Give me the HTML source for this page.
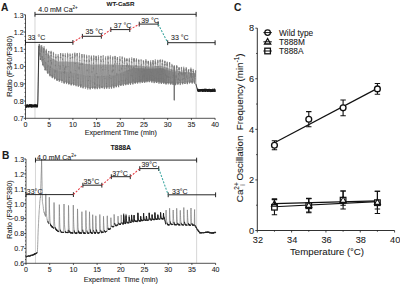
<!DOCTYPE html>
<html><head><meta charset="utf-8"><style>
html,body{margin:0;padding:0;background:#fff;overflow:hidden;}
svg{display:block;}
text{font-family:"Liberation Sans", sans-serif;fill:#1a1a1a;white-space:pre;stroke:#1a1a1a;stroke-width:0.08px;}
.tk{font-size:7px;}
.lb{font-size:7px;}
.bt{font-size:6.2px;font-weight:bold;}
.bt2{font-size:6.9px;font-weight:bold;}
.pl{font-size:10.2px;font-weight:bold;}
.al{font-size:7.2px;}
.al2{font-size:7.5px;}
.tc{font-size:9.2px;}
.ac{font-size:9.7px;}
.ay{font-size:9.75px;}
.lg{font-size:8.3px;}
</style></head><body>
<svg width="400" height="284" viewBox="0 0 400 284"><path d="M34.98 14.80V118.30M196.14 14.80V118.30" stroke="#c4c4c4" stroke-width="0.7"/><defs><linearGradient id="gA" gradientUnits="userSpaceOnUse" x1="39.2" y1="0" x2="195.7" y2="0"><stop offset="0" stop-color="#b0b0b0"/><stop offset="1" stop-color="#b0b0b0"/></linearGradient></defs><path d="M39.0 44.5L40.2 45.2L41.4 45.9L42.6 46.8L43.7 48.0L44.9 49.6L46.1 51.3L47.3 52.9L48.5 54.6L49.7 56.1L50.9 57.2L52.0 58.2L53.2 59.2L54.4 60.1L55.6 60.6L56.8 61.1L58.0 61.4L59.2 61.5L60.3 61.5L61.5 61.5L62.7 61.5L63.9 61.6L65.1 61.6L66.3 61.6L67.4 61.6L68.6 61.7L69.8 61.7L71.0 61.7L72.2 61.7L73.4 61.8L74.6 61.8L75.7 61.8L76.9 62.0L78.1 62.3L79.3 62.5L80.5 62.7L81.7 63.0L82.9 63.2L84.0 63.4L85.2 63.7L86.4 63.9L87.6 64.1L88.8 64.3L90.0 64.5L91.1 64.5L92.3 64.5L93.5 64.5L94.7 64.5L95.9 64.5L97.1 64.5L98.3 64.5L99.4 64.5L100.6 64.5L101.8 64.5L103.0 64.5L104.2 64.5L105.4 64.5L106.6 64.5L107.7 64.5L108.9 64.5L110.1 64.5L111.3 64.6L112.5 64.6L113.7 64.6L114.8 64.7L116.0 64.7L117.2 64.8L118.4 64.8L119.6 64.8L120.8 64.9L122.0 64.9L123.1 64.9L124.3 65.0L125.5 65.0L126.7 65.1L127.9 65.1L129.1 65.1L130.3 65.2L131.4 65.3L132.6 65.3L133.8 65.4L135.0 65.5L136.2 65.6L137.4 65.7L138.5 65.7L139.7 65.8L140.9 65.9L142.1 66.0L143.3 66.1L144.5 66.2L145.7 66.2L146.8 66.3L148.0 66.4L149.2 66.5L150.4 66.5L151.6 66.4L152.8 66.3L154.0 66.2L155.1 66.1L156.3 66.0L157.5 65.9L158.7 65.8L159.9 65.8L161.1 65.7L162.2 66.1L163.4 66.5L164.6 66.9L165.8 67.3L167.0 67.8L168.2 68.2L169.4 68.6L170.5 69.0L171.7 69.4L172.9 69.8L174.1 70.3L175.3 70.6L176.5 70.7L177.7 70.9L178.8 71.0L180.0 71.2L181.2 71.4L182.4 71.5L183.6 71.7L184.8 71.8L185.9 72.0L187.1 72.1L188.3 72.3L189.5 72.4L190.7 72.6L191.9 72.7L193.1 72.9L194.2 73.0L195.4 73.2L195.4 81.6L194.2 81.7L193.1 81.8L191.9 81.9L190.7 82.1L189.5 82.2L188.3 82.3L187.1 82.4L185.9 82.5L184.8 82.6L183.6 82.8L182.4 82.9L181.2 83.0L180.0 83.1L178.8 83.2L177.7 83.3L176.5 83.5L175.3 83.6L174.1 83.6L172.9 83.4L171.7 83.3L170.5 83.2L169.4 83.1L168.2 83.0L167.0 82.9L165.8 82.8L164.6 82.7L163.4 82.6L162.2 82.4L161.1 82.3L159.9 82.1L158.7 81.9L157.5 81.8L156.3 81.6L155.1 81.4L154.0 81.2L152.8 81.1L151.6 80.9L150.4 80.7L149.2 80.8L148.0 80.9L146.8 81.1L145.7 81.2L144.5 81.3L143.3 81.5L142.1 81.6L140.9 81.7L139.7 81.9L138.5 82.0L137.4 82.1L136.2 82.3L135.0 82.4L133.8 82.5L132.6 82.7L131.4 82.8L130.3 82.9L129.1 83.2L127.9 83.4L126.7 83.7L125.5 83.9L124.3 84.1L123.1 84.4L122.0 84.6L120.8 84.9L119.6 85.1L118.4 85.3L117.2 85.6L116.0 85.8L114.8 86.1L113.7 86.3L112.5 86.5L111.3 86.8L110.1 87.0L108.9 87.1L107.7 87.2L106.6 87.2L105.4 87.3L104.2 87.3L103.0 87.4L101.8 87.4L100.6 87.5L99.4 87.5L98.3 87.6L97.1 87.6L95.9 87.7L94.7 87.7L93.5 87.8L92.3 87.8L91.1 87.9L90.0 87.9L88.8 87.8L87.6 87.5L86.4 87.3L85.2 87.0L84.0 86.8L82.9 86.5L81.7 86.3L80.5 86.0L79.3 85.8L78.1 85.5L76.9 85.3L75.7 85.0L74.6 84.7L73.4 84.3L72.2 84.0L71.0 83.7L69.8 83.3L68.6 83.0L67.4 82.7L66.3 82.3L65.1 82.0L63.9 81.6L62.7 81.3L61.5 81.0L60.3 80.6L59.2 80.3L58.0 80.0L56.8 79.4L55.6 78.6L54.4 77.9L53.2 77.1L52.0 76.4L50.9 75.6L49.7 74.8L48.5 73.4L47.3 71.8L46.1 70.2L44.9 68.5L43.7 66.9L42.6 63.9L41.4 60.9L40.2 57.8L39.0 54.8Z" fill="url(#gA)"/><defs><linearGradient id="gC" gradientUnits="userSpaceOnUse" x1="39.2" y1="0" x2="195.7" y2="0"><stop offset="0" stop-color="#000" stop-opacity="0.12"/><stop offset="0.336" stop-color="#000" stop-opacity="0.05"/><stop offset="0.518" stop-color="#000" stop-opacity="0.12"/><stop offset="0.670" stop-color="#000" stop-opacity="0.28"/><stop offset="0.791" stop-color="#000" stop-opacity="0.28"/><stop offset="0.882" stop-color="#000" stop-opacity="0.1"/><stop offset="1" stop-color="#000" stop-opacity="0.08"/></linearGradient></defs><path d="M39.0 51.4L40.2 53.4L41.4 55.5L42.6 57.6L43.7 59.6L44.9 61.1L46.1 62.5L47.3 63.9L48.5 65.3L49.7 66.5L50.9 67.2L52.0 67.8L53.2 68.4L54.4 69.0L55.6 69.7L56.8 70.3L58.0 70.7L59.2 70.9L60.3 71.1L61.5 71.2L62.7 71.4L63.9 71.6L65.1 71.7L66.3 71.9L67.4 72.1L68.6 72.3L69.8 72.4L71.0 72.6L72.2 72.8L73.4 72.9L74.6 73.1L75.7 73.3L76.9 73.5L78.1 73.8L79.3 74.0L80.5 74.2L81.7 74.5L82.9 74.7L84.0 75.0L85.2 75.2L86.4 75.4L87.6 75.7L88.8 75.9L90.0 76.1L91.1 76.0L92.3 76.0L93.5 76.0L94.7 76.0L95.9 76.0L97.1 75.9L98.3 75.9L99.4 75.9L100.6 75.9L101.8 75.8L103.0 75.8L104.2 75.8L105.4 75.8L106.6 75.8L107.7 75.7L108.9 75.7L110.1 75.7L111.3 75.6L112.5 75.5L113.7 75.4L114.8 75.3L116.0 75.0L117.2 74.5L118.4 73.9L119.6 73.4L120.8 72.9L122.0 72.4L123.1 71.9L124.3 71.4L125.5 70.9L126.7 70.5L127.9 70.0L129.1 69.6L130.3 69.2L131.4 68.8L132.6 68.5L133.8 68.1L135.0 67.9L136.2 68.0L137.4 68.0L138.5 68.1L139.7 68.2L140.9 68.2L142.1 68.3L143.3 68.3L144.5 68.4L145.7 68.4L146.8 68.5L148.0 68.5L149.2 68.6L150.4 68.6L151.6 68.5L152.8 68.5L154.0 68.4L155.1 68.4L156.3 68.3L157.5 68.2L158.7 68.2L159.9 68.1L161.1 68.1L162.2 68.4L163.4 68.8L164.6 69.2L165.8 69.6L167.0 70.0L168.2 70.3L169.4 70.7L170.5 71.1L171.7 71.5L172.9 71.8L174.1 72.2L175.3 72.5L176.5 72.6L177.7 72.7L178.8 72.9L180.0 73.0L181.2 73.1L182.4 73.2L183.6 73.3L184.8 73.4L185.9 73.6L187.1 73.7L188.3 73.8L189.5 73.9L190.7 74.0L191.9 74.2L193.1 74.3L194.2 74.4L195.4 74.5L195.4 82.6L194.2 82.7L193.1 82.8L191.9 82.9L190.7 83.0L189.5 83.1L188.3 83.2L187.1 83.3L185.9 83.4L184.8 83.5L183.6 83.6L182.4 83.7L181.2 83.9L180.0 84.0L178.8 84.1L177.7 84.2L176.5 84.3L175.3 84.4L174.1 84.4L172.9 84.2L171.7 84.1L170.5 84.0L169.4 83.9L168.2 83.7L167.0 83.6L165.8 83.5L164.6 83.4L163.4 83.2L162.2 83.1L161.1 82.9L159.9 82.8L158.7 82.6L157.5 82.5L156.3 82.3L155.1 82.1L154.0 82.0L152.8 81.8L151.6 81.6L150.4 81.5L149.2 81.6L148.0 81.7L146.8 81.8L145.7 81.9L144.5 82.1L143.3 82.2L142.1 82.3L140.9 82.4L139.7 82.6L138.5 82.7L137.4 82.8L136.2 82.9L135.0 83.1L133.8 83.2L132.6 83.3L131.4 83.4L130.3 83.6L129.1 83.8L127.9 84.0L126.7 84.2L125.5 84.5L124.3 84.7L123.1 84.9L122.0 85.2L120.8 85.4L119.6 85.6L118.4 85.8L117.2 86.1L116.0 86.3L114.8 86.5L113.7 86.8L112.5 87.0L111.3 87.2L110.1 87.5L108.9 87.5L107.7 87.6L106.6 87.6L105.4 87.7L104.2 87.7L103.0 87.8L101.8 87.8L100.6 87.9L99.4 87.9L98.3 88.0L97.1 88.0L95.9 88.1L94.7 88.1L93.5 88.2L92.3 88.2L91.1 88.3L90.0 88.3L88.8 88.2L87.6 87.9L86.4 87.7L85.2 87.4L84.0 87.2L82.9 86.9L81.7 86.7L80.5 86.4L79.3 86.2L78.1 85.9L76.9 85.7L75.7 85.4L74.6 85.1L73.4 84.8L72.2 84.4L71.0 84.1L69.8 83.8L68.6 83.5L67.4 83.1L66.3 82.8L65.1 82.5L63.9 82.2L62.7 81.8L61.5 81.5L60.3 81.2L59.2 80.9L58.0 80.6L56.8 80.0L55.6 79.2L54.4 78.5L53.2 77.7L52.0 77.0L50.9 76.2L49.7 75.5L48.5 74.1L47.3 72.5L46.1 70.9L44.9 69.2L43.7 67.6L42.6 64.7L41.4 61.7L40.2 58.8L39.0 55.8Z" fill="url(#gC)"/><path d="M25.5 106.3L25.5 106.1L25.6 105.2L25.6 106.3L25.7 106.2L25.7 106.0L25.8 107.0L25.8 106.2L25.9 105.9L25.9 105.5L26.0 107.2L26.0 106.7L26.1 107.2L26.1 105.5L26.2 105.8L26.2 107.3L26.3 105.1L26.3 105.1L26.4 105.9L26.4 105.9L26.4 107.1L26.5 107.4L26.5 106.2L26.6 107.3L26.6 107.0L26.7 106.8L26.7 107.4L26.8 106.3L26.8 106.4L26.9 105.4L26.9 106.2L27.0 105.9L27.0 106.2L27.1 105.8L27.1 106.3L27.2 106.8L27.2 105.0L27.3 105.0L27.3 105.4L27.3 105.7L27.4 106.7L27.4 106.9L27.5 106.7L27.5 107.3L27.6 105.6L27.6 106.5L27.7 105.4L27.7 106.5L27.8 105.1L27.8 105.4L27.9 107.4L27.9 106.9L28.0 105.2L28.0 106.3L28.1 105.1L28.1 106.5L28.2 107.3L28.2 105.9L28.2 105.6L28.3 106.8L28.3 107.2L28.4 106.6L28.4 105.1L28.5 105.6L28.5 107.1L28.6 106.8L28.6 107.2L28.7 107.3L28.7 105.5L28.8 107.0L28.8 106.1L28.9 106.4L28.9 107.0L29.0 105.7L29.0 107.1L29.1 105.9L29.1 107.2L29.1 106.4L29.2 106.9L29.2 106.8L29.3 105.1L29.3 105.5L29.4 106.7L29.4 105.3L29.5 106.9L29.5 106.5L29.6 105.4L29.6 105.9L29.7 107.2L29.7 105.0L29.8 106.9L29.8 106.8L29.9 105.6L29.9 106.6L30.0 106.7L30.0 107.3L30.1 107.2L30.1 106.0L30.1 106.8L30.2 106.0L30.2 106.5L30.3 106.3L30.3 105.1L30.4 106.3L30.4 106.0L30.5 105.3L30.5 107.0L30.6 107.1L30.6 105.2L30.7 105.5L30.7 106.8L30.8 107.0L30.8 105.6L30.9 105.2L30.9 107.0L31.0 105.1L31.0 105.3L31.0 106.0L31.1 106.4L31.1 107.2L31.2 107.3L31.2 105.1L31.3 106.9L31.3 105.7L31.4 106.8L31.4 105.4L31.5 106.0L31.5 106.7L31.6 107.0L31.6 105.7L31.7 107.3L31.7 106.9L31.8 106.1L31.8 105.4L31.9 105.9L31.9 106.8L31.9 105.2L32.0 106.9L32.0 107.4L32.1 106.8L32.1 106.4L32.2 107.3L32.2 107.0L32.3 106.5L32.3 106.1L32.4 107.1L32.4 106.6L32.5 105.3L32.5 105.1L32.6 105.8L32.6 105.8L32.7 106.0L32.7 107.1L32.8 107.3L32.8 107.4L32.8 105.2L32.9 105.7L32.9 105.1L33.0 107.4L33.0 105.9L33.1 106.3L33.1 105.7L33.2 106.7L33.2 105.0L33.3 107.3L33.3 106.1L33.4 105.7L33.4 105.3L33.5 105.7L33.5 105.7L33.6 105.5L33.6 105.2L33.7 106.6L33.7 105.8L33.7 105.3L33.8 105.3L33.8 106.4L33.9 105.5L33.9 105.3L34.0 106.0L34.0 105.9L34.1 106.5L34.1 106.0L34.2 106.0L34.2 107.2L34.3 105.9L34.3 105.0L34.4 105.3L34.4 105.7L34.5 106.5L34.5 105.7L34.6 106.0L34.6 106.4L34.6 105.4L34.7 107.2L34.7 105.6L34.8 107.4L34.8 106.0L34.9 106.3L34.9 106.9L35.0 105.7L35.0 106.2L35.1 105.9L35.1 105.2L35.2 106.8L35.2 107.4L35.3 106.7L35.3 105.8L35.4 106.9L35.4 107.0L35.5 105.2L35.5 105.8L35.5 106.4L35.6 105.3L35.6 106.6L35.7 105.8L35.7 107.0L35.8 106.4L35.8 105.5L35.9 105.2L35.9 105.3L36.0 106.5L36.0 106.0L36.1 106.7L36.1 107.1L36.2 106.2L36.2 105.4L36.3 105.4L36.3 105.7L36.4 105.1L36.4 106.8L36.4 107.0L36.5 106.3L36.5 106.8L36.6 106.9L36.6 106.4L36.7 105.9L36.7 106.2L36.8 106.7L36.8 105.4L36.9 105.1L36.9 106.3L37.0 107.3L37.0 107.4L37.1 105.3L37.1 107.3L37.2 105.7L37.2 106.1L37.3 106.7L37.3 105.5L37.3 107.4L37.4 107.1L37.4 106.3L37.5 107.4L37.5 105.4L37.6 106.9L37.6 104.5L37.7 102.7L37.7 100.9L37.8 99.1L37.8 97.4L37.9 95.6L37.9 93.8L38.0 92.0L38.0 90.3L38.1 88.5L38.1 86.7L38.2 84.9L38.2 83.2L38.3 81.4L38.3 79.6L38.3 77.8L38.4 76.1L38.4 74.3L38.5 72.5L38.5 70.7L38.6 69.0L38.6 67.2L38.7 65.4L38.7 63.6L38.8 61.9L38.8 60.1L38.9 58.3L38.9 56.5L39.0 54.8L39.0 53.0L39.1 51.2L39.1 49.4L39.2 47.7L39.2 45.9L39.2 44.1L39.3 46.3L39.3 45.2L39.4 43.9L39.4 47.1L39.5 47.8L39.5 48.2L39.6 46.6L39.6 46.8L39.7 47.0L39.7 49.9L39.8 50.4L39.8 49.8L39.9 51.4L39.9 52.6L40.0 54.4L40.0 52.9L40.1 55.5L40.1 55.7L40.1 57.5L40.2 57.9L40.2 59.2L40.3 59.0L40.3 59.8L40.4 58.1L40.4 59.2L40.5 60.0L40.5 58.6L40.6 58.3L40.6 59.4L40.7 59.4L40.7 58.3L40.8 58.2L40.8 57.9L40.9 56.6L40.9 55.7L41.0 56.2L41.0 53.8L41.0 54.5L41.1 51.6L41.1 52.2L41.2 49.2L41.2 52.3L41.3 48.8L41.3 47.8L41.4 49.3L41.4 48.3L41.5 47.1L41.5 47.7L41.6 45.4L41.6 45.5L41.7 45.0L41.7 47.1L41.8 47.7L41.8 48.7L41.9 48.7L41.9 49.5L41.9 50.8L42.0 50.7L42.0 50.9L42.1 51.8L42.1 57.1L42.2 56.3L42.2 58.2L42.3 56.3L42.3 60.4L42.4 59.3L42.4 61.3L42.5 62.3L42.5 62.1L42.6 62.9L42.6 65.0L42.7 63.4L42.7 63.8L42.8 64.8L42.8 64.3L42.8 64.6L42.9 65.5L42.9 64.6L43.0 65.1L43.0 65.2L43.1 64.6L43.1 63.6L43.2 62.8L43.2 62.0L43.3 59.6L43.3 59.9L43.4 58.9L43.4 59.5L43.5 58.0L43.5 53.8L43.6 51.0L43.6 52.8L43.7 51.7L43.7 49.0L43.7 50.6L43.8 50.4L43.8 48.0L43.9 48.5L43.9 48.3L44.0 49.5L44.0 49.0L44.1 46.2L44.1 46.4L44.2 47.5L44.2 48.2L44.3 49.3L44.3 50.1L44.4 54.6L44.4 55.9L44.5 56.6L44.5 57.6L44.6 58.6L44.6 58.0L44.6 61.7L44.7 62.8L44.7 64.0L44.8 64.7L44.8 66.7L44.9 66.5L44.9 68.7L45.0 69.6L45.0 70.1L45.1 68.9L45.1 70.2L45.2 68.6L45.2 68.7L45.3 70.3L45.3 68.6L45.4 67.8L45.4 67.7L45.5 68.7L45.5 68.5L45.6 66.1L45.6 65.8L45.6 65.2L45.7 62.4L45.7 63.2L45.8 61.6L45.8 56.8L45.9 56.2L45.9 56.1L46.0 54.1L46.0 55.0L46.1 53.4L46.1 52.6L46.2 50.7L46.2 51.5L46.3 50.8L46.3 49.4L46.4 48.9L46.4 49.5L46.5 51.7L46.5 52.4L46.5 50.5L46.6 53.2L46.6 52.6L46.7 52.8L46.7 55.1L46.8 55.2L46.8 56.9L46.9 57.2L46.9 60.6L47.0 63.1L47.0 63.3L47.1 67.5L47.1 66.9L47.2 69.8L47.2 69.1L47.3 70.6L47.3 72.5L47.4 72.6L47.4 72.0L47.4 73.1L47.5 73.2L47.5 72.9L47.6 71.7L47.6 71.5L47.7 73.8L47.7 72.5L47.8 72.1L47.8 72.1L47.9 70.4L47.9 69.5L48.0 69.5L48.0 66.4L48.1 65.5L48.1 66.4L48.2 60.7L48.2 62.1L48.3 61.4L48.3 56.5L48.3 58.1L48.4 54.5L48.4 56.1L48.5 55.4L48.5 54.2L48.6 52.7L48.6 51.3L48.7 51.9L48.7 51.0L48.8 51.0L48.8 52.4L48.9 51.6L48.9 54.4L49.0 55.4L49.0 55.5L49.1 55.4L49.1 58.3L49.2 60.2L49.2 61.5L49.2 62.4L49.3 65.9L49.3 67.5L49.4 67.6L49.4 68.0L49.5 70.5L49.5 72.8L49.6 70.9L49.6 73.4L49.7 74.5L49.7 75.1L49.8 74.3L49.8 74.7L49.9 76.0L49.9 75.1L50.0 75.1L50.0 74.4L50.1 76.5L50.1 74.5L50.1 74.7L50.2 73.0L50.2 72.5L50.3 71.8L50.3 69.4L50.4 69.8L50.4 67.8L50.5 66.4L50.5 67.9L50.6 61.3L50.6 61.6L50.7 60.0L50.7 61.0L50.8 59.0L50.8 58.1L50.9 55.2L50.9 56.6L51.0 52.0L51.0 53.7L51.0 51.9L51.1 50.8L51.1 53.5L51.2 51.7L51.2 54.3L51.3 56.2L51.3 54.5L51.4 58.1L51.4 59.4L51.5 59.7L51.5 61.7L51.6 64.5L51.6 61.9L51.7 63.9L51.7 67.2L51.8 68.1L51.8 69.6L51.9 73.0L51.9 73.4L51.9 74.1L52.0 76.3L52.0 76.0L52.1 74.9L52.1 77.2L52.2 77.8L52.2 77.2L52.3 75.8L52.3 78.0L52.4 78.2L52.4 75.7L52.5 77.4L52.5 76.2L52.6 75.6L52.6 75.5L52.7 72.7L52.7 71.0L52.8 70.5L52.8 69.2L52.8 68.0L52.9 68.0L52.9 65.8L53.0 63.6L53.0 61.8L53.1 59.4L53.1 57.5L53.2 56.1L53.2 56.5L53.3 54.9L53.3 53.6L53.4 52.7L53.4 51.9L53.5 55.2L53.5 54.2L53.6 53.1L53.6 56.0L53.7 57.4L53.7 56.5L53.8 59.3L53.8 59.8L53.8 59.0L53.9 61.0L53.9 65.3L54.0 66.1L54.0 66.9L54.1 69.8L54.1 70.6L54.2 71.6L54.2 73.9L54.3 74.9L54.3 74.4L54.4 76.1L54.4 76.3L54.5 78.3L54.5 79.4L54.6 77.8L54.6 78.5L54.7 77.5L54.7 77.4L54.7 78.9L54.8 78.8L54.8 77.5L54.9 77.5L54.9 76.2L55.0 76.5L55.0 76.0L55.1 74.0L55.1 70.3L55.2 72.5L55.2 69.8L55.3 69.9L55.3 64.8L55.4 66.2L55.4 60.9L55.5 61.3L55.5 61.2L55.6 56.8L55.6 57.5L55.6 57.8L55.7 55.4L55.7 55.5L55.8 53.9L55.8 53.9L55.9 55.7L55.9 55.7L56.0 56.7L56.0 58.4L56.1 56.8L56.1 58.8L56.2 60.6L56.2 60.4L56.3 63.3L56.3 65.9L56.4 67.7L56.4 69.1L56.5 71.0L56.5 72.5L56.5 72.7L56.6 74.8L56.6 76.7L56.7 77.9L56.7 77.9L56.8 79.9L56.8 79.0L56.9 80.5L56.9 78.7L57.0 78.9L57.0 79.9L57.1 80.8L57.1 80.4L57.2 80.9L57.2 79.7L57.3 79.9L57.3 79.1L57.4 77.7L57.4 75.7L57.4 74.0L57.5 73.6L57.5 71.1L57.6 68.2L57.6 68.1L57.7 67.5L57.7 65.5L57.8 65.2L57.8 64.0L57.9 63.1L57.9 58.8L58.0 57.4L58.0 55.8L58.1 57.2L58.1 56.2L58.2 54.4L58.2 54.1L58.3 55.0L58.3 55.1L58.3 57.8L58.4 58.5L58.4 57.2L58.5 60.6L58.5 59.5L58.6 60.5L58.6 65.9L58.7 65.5L58.7 68.0L58.8 69.8L58.8 70.2L58.9 71.4L58.9 72.9L59.0 75.1L59.0 77.0L59.1 78.2L59.1 79.9L59.2 79.3L59.2 80.2L59.2 81.9L59.3 81.4L59.3 81.1L59.4 80.0L59.4 80.2L59.5 80.8L59.5 81.2L59.6 78.8L59.6 79.1L59.7 80.1L59.7 78.1L59.8 77.5L59.8 75.5L59.9 72.6L59.9 71.3L60.0 68.1L60.0 69.5L60.1 65.5L60.1 67.6L60.1 63.8L60.2 61.0L60.2 60.6L60.3 60.3L60.3 57.0L60.4 57.0L60.4 57.9L60.5 55.9L60.5 55.6L60.6 53.1L60.6 55.9L60.7 53.4L60.7 57.2L60.8 58.2L60.8 56.7L60.9 60.0L60.9 60.0L61.0 62.2L61.0 62.7L61.0 64.7L61.1 66.3L61.1 70.5L61.2 70.5L61.2 73.2L61.3 72.9L61.3 75.1L61.4 76.9L61.4 77.8L61.5 78.2L61.5 79.2L61.6 79.7L61.6 79.9L61.7 80.9L61.7 81.8L61.8 82.6L61.8 82.9L61.9 81.6L61.9 80.3L62.0 79.7L62.0 80.8L62.0 79.7L62.1 79.4L62.1 76.3L62.2 75.5L62.2 73.6L62.3 72.5L62.3 72.5L62.4 70.3L62.4 68.2L62.5 66.6L62.5 64.1L62.6 62.7L62.6 58.5L62.7 60.0L62.7 59.4L62.8 55.7L62.8 56.0L62.9 54.5L62.9 55.9L62.9 53.4L63.0 53.1L63.0 55.0L63.1 56.4L63.1 55.0L63.2 57.5L63.2 60.7L63.3 60.5L63.3 61.0L63.4 65.9L63.4 65.5L63.5 65.9L63.5 68.7L63.6 71.6L63.6 72.6L63.7 72.0L63.7 75.3L63.8 76.9L63.8 78.9L63.8 78.9L63.9 81.7L63.9 82.5L64.0 81.5L64.0 81.3L64.1 83.4L64.1 81.4L64.2 83.7L64.2 82.2L64.3 82.5L64.3 81.5L64.4 81.0L64.4 80.6L64.5 79.9L64.5 77.3L64.6 76.6L64.6 74.4L64.7 71.0L64.7 73.5L64.7 67.7L64.8 70.3L64.8 65.6L64.9 64.6L64.9 63.4L65.0 62.1L65.0 58.7L65.1 56.2L65.1 55.3L65.2 55.0L65.2 55.6L65.3 55.2L65.3 53.3L65.4 54.7L65.4 57.0L65.5 55.9L65.5 57.0L65.6 56.2L65.6 57.5L65.6 61.1L65.7 62.2L65.7 65.1L65.8 68.0L65.8 65.8L65.9 69.5L65.9 70.4L66.0 73.0L66.0 75.4L66.1 77.1L66.1 76.9L66.2 78.3L66.2 81.5L66.3 80.6L66.3 83.0L66.4 81.9L66.4 83.1L66.5 82.4L66.5 82.2L66.5 84.1L66.6 81.7L66.6 83.4L66.7 81.3L66.7 81.6L66.8 80.8L66.8 79.1L66.9 78.3L66.9 77.1L67.0 76.7L67.0 73.5L67.1 70.6L67.1 70.1L67.2 66.3L67.2 66.2L67.3 65.4L67.3 61.0L67.4 60.8L67.4 57.4L67.4 57.8L67.5 58.1L67.5 57.7L67.6 55.0L67.6 52.8L67.7 56.3L67.7 56.0L67.8 56.7L67.8 54.0L67.9 57.0L67.9 58.3L68.0 60.8L68.0 61.1L68.1 63.5L68.1 65.7L68.2 66.8L68.2 66.3L68.3 69.4L68.3 70.0L68.3 73.7L68.4 75.7L68.4 77.0L68.5 78.2L68.5 80.1L68.6 79.9L68.6 81.2L68.7 83.5L68.7 82.3L68.8 84.7L68.8 82.4L68.9 83.0L68.9 83.7L69.0 84.0L69.0 82.7L69.1 83.9L69.1 80.8L69.2 81.9L69.2 78.4L69.3 76.9L69.3 77.9L69.3 74.9L69.4 74.1L69.4 72.8L69.5 68.6L69.5 68.6L69.6 65.4L69.6 64.7L69.7 62.5L69.7 60.0L69.8 59.6L69.8 58.6L69.9 57.3L69.9 56.8L70.0 56.5L70.0 53.4L70.1 53.8L70.1 55.6L70.2 56.1L70.2 54.6L70.2 56.4L70.3 58.9L70.3 57.6L70.4 59.3L70.4 62.8L70.5 64.9L70.5 65.9L70.6 69.8L70.6 72.1L70.7 73.1L70.7 71.5L70.8 76.1L70.8 77.0L70.9 78.4L70.9 79.3L71.0 82.8L71.0 83.7L71.1 84.6L71.1 84.9L71.1 84.0L71.2 83.1L71.2 85.6L71.3 83.2L71.3 84.7L71.4 83.1L71.4 83.0L71.5 83.3L71.5 82.6L71.6 82.1L71.6 79.4L71.7 78.3L71.7 75.9L71.8 76.2L71.8 73.2L71.9 70.2L71.9 67.5L72.0 66.1L72.0 63.5L72.0 62.3L72.1 59.7L72.1 57.9L72.2 56.9L72.2 57.9L72.3 57.2L72.3 54.5L72.4 54.4L72.4 54.3L72.5 53.9L72.5 54.8L72.6 53.6L72.6 58.3L72.7 56.6L72.7 57.8L72.8 60.3L72.8 62.0L72.9 65.4L72.9 65.8L72.9 66.1L73.0 68.4L73.0 71.5L73.1 74.1L73.1 77.3L73.2 76.8L73.2 79.6L73.3 81.4L73.3 82.8L73.4 82.2L73.4 84.9L73.5 83.5L73.5 83.8L73.6 84.7L73.6 85.5L73.7 84.3L73.7 84.1L73.8 85.1L73.8 83.6L73.8 83.4L73.9 82.4L73.9 79.7L74.0 80.4L74.0 78.6L74.1 76.0L74.1 75.4L74.2 74.9L74.2 71.7L74.3 67.7L74.3 67.2L74.4 63.8L74.4 61.7L74.5 59.3L74.5 59.4L74.6 57.4L74.6 58.2L74.7 56.3L74.7 55.4L74.7 53.4L74.8 55.8L74.8 52.6L74.9 55.7L74.9 56.9L75.0 55.4L75.0 57.4L75.1 59.1L75.1 61.9L75.2 63.9L75.2 63.0L75.3 65.0L75.3 70.9L75.4 70.4L75.4 73.3L75.5 74.2L75.5 77.2L75.6 78.7L75.6 79.8L75.6 80.7L75.7 81.5L75.7 83.9L75.8 85.0L75.8 84.7L75.9 85.1L75.9 85.6L76.0 85.2L76.0 85.0L76.1 86.3L76.1 85.9L76.2 84.4L76.2 84.1L76.3 82.0L76.3 82.1L76.4 79.5L76.4 78.8L76.5 76.4L76.5 75.0L76.5 72.2L76.6 69.8L76.6 69.2L76.7 65.3L76.7 64.6L76.8 62.8L76.8 59.7L76.9 60.1L76.9 58.0L77.0 56.2L77.0 54.1L77.1 56.3L77.1 53.2L77.2 54.4L77.2 53.1L77.3 54.1L77.3 54.1L77.4 57.2L77.4 57.2L77.5 60.4L77.5 62.3L77.5 62.5L77.6 64.5L77.6 68.1L77.7 68.8L77.7 71.1L77.8 75.3L77.8 74.6L77.9 79.0L77.9 77.7L78.0 82.6L78.0 83.0L78.1 82.9L78.1 84.8L78.2 85.6L78.2 86.4L78.3 85.8L78.3 85.3L78.4 86.8L78.4 85.9L78.4 86.1L78.5 85.7L78.5 85.0L78.6 85.3L78.6 84.5L78.7 83.0L78.7 79.5L78.8 78.6L78.8 76.6L78.9 73.2L78.9 73.2L79.0 72.2L79.0 66.7L79.1 69.5L79.1 66.0L79.2 63.5L79.2 61.4L79.3 59.7L79.3 57.0L79.3 57.4L79.4 55.9L79.4 56.6L79.5 56.7L79.5 52.8L79.6 54.3L79.6 54.5L79.7 58.1L79.7 58.6L79.8 58.5L79.8 61.0L79.9 60.3L79.9 65.1L80.0 64.1L80.0 66.8L80.1 68.9L80.1 73.3L80.2 73.5L80.2 74.2L80.2 77.4L80.3 80.5L80.3 81.8L80.4 81.8L80.4 84.7L80.5 85.5L80.5 84.9L80.6 87.0L80.6 85.6L80.7 86.8L80.7 86.1L80.8 88.0L80.8 87.5L80.9 85.3L80.9 86.8L81.0 84.0L81.0 84.9L81.1 83.5L81.1 82.3L81.1 80.5L81.2 78.3L81.2 77.4L81.3 73.9L81.3 71.8L81.4 69.8L81.4 66.7L81.5 65.6L81.5 63.6L81.6 61.6L81.6 60.1L81.7 59.9L81.7 56.0L81.8 54.5L81.8 54.1L81.9 54.7L81.9 55.6L82.0 54.2L82.0 56.7L82.0 57.7L82.1 55.8L82.1 57.9L82.2 61.6L82.2 64.9L82.3 63.5L82.3 65.3L82.4 68.0L82.4 69.0L82.5 73.5L82.5 73.4L82.6 75.0L82.6 79.2L82.7 81.3L82.7 81.1L82.8 84.3L82.8 84.4L82.9 85.0L82.9 87.1L82.9 87.5L83.0 88.2L83.0 86.9L83.1 88.3L83.1 86.2L83.2 86.1L83.2 87.2L83.3 86.4L83.3 86.0L83.4 84.7L83.4 83.0L83.5 81.1L83.5 79.7L83.6 77.8L83.6 77.2L83.7 74.8L83.7 74.4L83.8 70.9L83.8 68.3L83.8 67.0L83.9 65.5L83.9 63.2L84.0 59.8L84.0 60.2L84.1 59.8L84.1 58.5L84.2 58.2L84.2 54.1L84.3 57.6L84.3 56.7L84.4 55.6L84.4 55.2L84.5 56.9L84.5 61.4L84.6 60.0L84.6 63.7L84.7 64.7L84.7 66.4L84.7 69.2L84.8 70.7L84.8 73.0L84.9 74.0L84.9 76.8L85.0 77.8L85.0 78.8L85.1 82.1L85.1 83.8L85.2 85.0L85.2 85.1L85.3 86.3L85.3 88.2L85.4 88.1L85.4 88.7L85.5 88.9L85.5 88.5L85.6 87.7L85.6 87.5L85.7 87.9L85.7 86.4L85.7 85.9L85.8 84.9L85.8 83.3L85.9 80.2L85.9 77.4L86.0 76.8L86.0 77.0L86.1 75.2L86.1 68.1L86.2 66.8L86.2 66.0L86.3 65.9L86.3 62.3L86.4 60.3L86.4 61.8L86.5 59.8L86.5 57.6L86.6 57.6L86.6 54.8L86.6 55.9L86.7 58.1L86.7 56.3L86.8 57.4L86.8 59.7L86.9 61.2L86.9 60.5L87.0 62.5L87.0 64.2L87.1 64.6L87.1 71.2L87.2 69.6L87.2 74.4L87.3 74.8L87.3 77.2L87.4 79.7L87.4 80.7L87.5 84.1L87.5 85.0L87.5 85.3L87.6 87.5L87.6 87.7L87.7 86.8L87.7 89.2L87.8 89.0L87.8 89.4L87.9 87.5L87.9 88.2L88.0 87.0L88.0 86.0L88.1 85.3L88.1 85.8L88.2 85.0L88.2 82.6L88.3 80.0L88.3 80.9L88.4 76.6L88.4 76.5L88.4 74.3L88.5 73.2L88.5 69.0L88.6 67.7L88.6 66.0L88.7 64.7L88.7 63.1L88.8 60.0L88.8 59.4L88.9 59.8L88.9 56.9L89.0 55.6L89.0 55.1L89.1 56.0L89.1 56.8L89.2 56.4L89.2 58.2L89.3 62.1L89.3 60.2L89.3 64.5L89.4 63.8L89.4 68.3L89.5 68.8L89.5 71.3L89.6 73.8L89.6 77.1L89.7 76.4L89.7 80.8L89.8 82.4L89.8 83.3L89.9 82.9L89.9 84.9L90.0 86.8L90.0 87.7L90.1 89.4L90.1 87.7L90.2 89.3L90.2 87.5L90.2 87.3L90.3 88.4L90.3 88.0L90.4 87.1L90.4 87.3L90.5 86.1L90.5 82.8L90.6 82.0L90.6 80.7L90.7 81.2L90.7 76.3L90.8 74.4L90.8 73.5L90.9 70.2L90.9 68.6L91.0 67.7L91.0 66.6L91.1 64.4L91.1 62.6L91.1 59.1L91.2 57.4L91.2 57.6L91.3 59.1L91.3 56.0L91.4 56.2L91.4 55.5L91.5 59.3L91.5 56.5L91.6 60.9L91.6 58.1L91.7 60.6L91.7 63.0L91.8 64.9L91.8 67.3L91.9 71.0L91.9 72.5L92.0 71.4L92.0 77.1L92.0 77.7L92.1 79.8L92.1 82.4L92.2 83.1L92.2 83.7L92.3 85.2L92.3 85.9L92.4 86.7L92.4 87.6L92.5 87.0L92.5 87.1L92.6 88.0L92.6 89.0L92.7 87.8L92.7 86.8L92.8 86.7L92.8 87.9L92.9 86.2L92.9 85.3L93.0 82.0L93.0 82.4L93.0 80.2L93.1 77.8L93.1 75.5L93.2 73.3L93.2 72.5L93.3 67.6L93.3 69.3L93.4 62.6L93.4 64.0L93.5 63.2L93.5 58.9L93.6 60.5L93.6 58.1L93.7 55.3L93.7 56.7L93.8 56.2L93.8 56.0L93.9 55.9L93.9 59.3L93.9 57.6L94.0 61.1L94.0 62.2L94.1 64.5L94.1 66.0L94.2 67.1L94.2 69.6L94.3 72.6L94.3 75.3L94.4 74.8L94.4 77.4L94.5 80.5L94.5 81.8L94.6 84.6L94.6 82.8L94.7 84.6L94.7 85.5L94.8 88.5L94.8 87.5L94.8 87.8L94.9 88.1L94.9 87.5L95.0 89.3L95.0 87.2L95.1 87.8L95.1 86.3L95.2 87.2L95.2 85.1L95.3 84.2L95.3 81.4L95.4 81.2L95.4 78.7L95.5 78.1L95.5 77.9L95.6 72.3L95.6 70.9L95.7 70.0L95.7 68.0L95.7 67.9L95.8 63.4L95.8 61.2L95.9 61.4L95.9 58.6L96.0 60.0L96.0 55.8L96.1 57.9L96.1 57.1L96.2 58.2L96.2 56.1L96.3 60.2L96.3 58.4L96.4 61.3L96.4 60.5L96.5 62.9L96.5 64.4L96.6 68.1L96.6 71.3L96.6 73.4L96.7 73.9L96.7 73.2L96.8 75.5L96.8 79.6L96.9 81.7L96.9 81.6L97.0 85.7L97.0 84.6L97.1 86.1L97.1 87.0L97.2 88.8L97.2 86.9L97.3 88.2L97.3 87.5L97.4 88.9L97.4 89.2L97.5 87.4L97.5 87.2L97.5 86.5L97.6 84.9L97.6 83.6L97.7 83.3L97.7 80.4L97.8 77.8L97.8 76.3L97.9 78.1L97.9 72.6L98.0 69.9L98.0 68.8L98.1 67.9L98.1 64.8L98.2 62.5L98.2 62.3L98.3 58.8L98.3 60.1L98.4 59.9L98.4 55.3L98.4 56.4L98.5 57.4L98.5 58.6L98.6 57.1L98.6 58.7L98.7 59.8L98.7 62.1L98.8 63.1L98.8 63.6L98.9 66.0L98.9 66.9L99.0 68.6L99.0 71.9L99.1 72.1L99.1 75.6L99.2 77.5L99.2 78.2L99.3 80.9L99.3 83.7L99.3 85.8L99.4 84.9L99.4 87.9L99.5 87.0L99.5 86.7L99.6 87.5L99.6 88.2L99.7 88.2L99.7 87.3L99.8 89.1L99.8 87.6L99.9 86.6L99.9 85.0L100.0 85.2L100.0 85.2L100.1 84.7L100.1 82.2L100.2 80.0L100.2 76.0L100.2 74.9L100.3 73.4L100.3 72.7L100.4 69.4L100.4 67.7L100.5 64.1L100.5 62.8L100.6 62.6L100.6 59.7L100.7 59.6L100.7 60.2L100.8 58.9L100.8 57.4L100.9 57.1L100.9 55.8L101.0 57.5L101.0 56.2L101.1 60.7L101.1 62.0L101.2 60.3L101.2 64.7L101.2 67.5L101.3 67.0L101.3 69.0L101.4 72.3L101.4 74.7L101.5 75.0L101.5 77.4L101.6 78.0L101.6 79.4L101.7 82.8L101.7 84.2L101.8 85.0L101.8 87.0L101.9 86.0L101.9 87.7L102.0 87.2L102.0 87.4L102.1 88.2L102.1 87.1L102.1 87.8L102.2 88.2L102.2 87.8L102.3 85.5L102.3 84.8L102.4 82.9L102.4 82.1L102.5 82.2L102.5 79.2L102.6 78.6L102.6 75.8L102.7 71.4L102.7 69.3L102.8 70.2L102.8 66.1L102.9 66.5L102.9 64.1L103.0 60.9L103.0 60.7L103.0 59.1L103.1 59.8L103.1 56.4L103.2 56.6L103.2 55.1L103.3 58.1L103.3 58.9L103.4 58.7L103.4 59.8L103.5 62.0L103.5 60.5L103.6 61.5L103.6 63.9L103.7 67.8L103.7 71.2L103.8 71.6L103.8 72.5L103.9 76.7L103.9 76.2L103.9 80.3L104.0 81.4L104.0 81.6L104.1 84.4L104.1 84.6L104.2 87.6L104.2 87.8L104.3 88.8L104.3 88.7L104.4 89.1L104.4 88.6L104.5 87.9L104.5 86.9L104.6 88.5L104.6 87.9L104.7 84.6L104.7 84.5L104.8 84.6L104.8 82.9L104.8 81.6L104.9 79.1L104.9 78.1L105.0 78.6L105.0 71.8L105.1 69.6L105.1 70.0L105.2 67.8L105.2 65.1L105.3 64.5L105.3 63.2L105.4 60.3L105.4 57.9L105.5 58.6L105.5 59.5L105.6 56.8L105.6 56.9L105.7 56.4L105.7 57.5L105.7 59.5L105.8 59.2L105.8 59.4L105.9 60.4L105.9 64.3L106.0 67.6L106.0 67.4L106.1 68.3L106.1 70.3L106.2 73.3L106.2 75.0L106.3 77.3L106.3 78.8L106.4 82.0L106.4 83.9L106.5 83.0L106.5 86.0L106.6 85.6L106.6 88.2L106.6 86.2L106.7 87.0L106.7 89.0L106.8 86.8L106.8 87.2L106.9 87.0L106.9 87.4L107.0 86.0L107.0 86.3L107.1 85.7L107.1 83.1L107.2 81.6L107.2 81.0L107.3 80.3L107.3 77.4L107.4 74.9L107.4 74.0L107.5 72.7L107.5 70.4L107.5 69.1L107.6 64.8L107.6 64.9L107.7 63.2L107.7 60.5L107.8 58.5L107.8 59.3L107.9 57.1L107.9 56.9L108.0 55.7L108.0 56.6L108.1 59.3L108.1 56.5L108.2 60.2L108.2 62.0L108.3 63.6L108.3 61.8L108.4 66.3L108.4 68.7L108.4 70.7L108.5 70.2L108.5 74.1L108.6 74.0L108.6 78.0L108.7 80.6L108.7 81.0L108.8 83.7L108.8 84.2L108.9 85.3L108.9 85.6L109.0 86.0L109.0 87.6L109.1 88.4L109.1 87.7L109.2 87.8L109.2 87.5L109.3 88.8L109.3 88.2L109.4 87.6L109.4 86.5L109.4 84.1L109.5 83.7L109.5 83.2L109.6 81.8L109.6 77.3L109.7 77.8L109.7 74.8L109.8 75.9L109.8 73.8L109.9 68.9L109.9 67.2L110.0 66.2L110.0 66.0L110.1 62.5L110.1 58.7L110.2 57.9L110.2 57.1L110.3 58.3L110.3 58.8L110.3 57.0L110.4 55.4L110.4 56.5L110.5 57.9L110.5 59.2L110.6 61.9L110.6 61.8L110.7 64.7L110.7 65.7L110.8 67.4L110.8 68.4L110.9 69.4L110.9 71.4L111.0 72.8L111.0 79.1L111.1 78.4L111.1 79.5L111.2 80.7L111.2 82.9L111.2 84.2L111.3 84.5L111.3 87.4L111.4 85.6L111.4 88.4L111.5 87.2L111.5 88.6L111.6 88.4L111.6 87.6L111.7 88.1L111.7 85.7L111.8 84.7L111.8 84.1L111.9 84.5L111.9 81.5L112.0 81.5L112.0 80.4L112.1 78.0L112.1 76.0L112.1 70.5L112.2 72.4L112.2 67.8L112.3 66.7L112.3 65.8L112.4 64.7L112.4 64.2L112.5 62.0L112.5 58.6L112.6 58.1L112.6 59.6L112.7 57.2L112.7 58.0L112.8 56.4L112.8 59.1L112.9 58.8L112.9 59.3L113.0 60.0L113.0 63.3L113.0 65.5L113.1 67.1L113.1 65.1L113.2 71.1L113.2 69.4L113.3 75.0L113.3 77.1L113.4 76.8L113.4 80.2L113.5 81.0L113.5 82.0L113.6 82.7L113.6 82.9L113.7 86.4L113.7 84.8L113.8 87.0L113.8 88.0L113.9 86.1L113.9 88.3L113.9 86.2L114.0 86.6L114.0 86.6L114.1 86.4L114.1 85.8L114.2 83.3L114.2 83.6L114.3 83.0L114.3 81.2L114.4 78.3L114.4 75.9L114.5 74.9L114.5 71.8L114.6 69.7L114.6 68.5L114.7 67.7L114.7 63.3L114.8 64.8L114.8 62.9L114.8 59.9L114.9 60.1L114.9 57.8L115.0 56.1L115.0 59.0L115.1 57.6L115.1 55.9L115.2 57.2L115.2 59.3L115.3 58.3L115.3 62.6L115.4 60.7L115.4 64.9L115.5 65.1L115.5 68.4L115.6 70.2L115.6 72.4L115.7 72.9L115.7 74.0L115.7 77.9L115.8 78.3L115.8 81.0L115.9 82.2L115.9 83.8L116.0 83.5L116.0 84.3L116.1 86.1L116.1 84.7L116.2 86.7L116.2 87.2L116.3 86.1L116.3 87.2L116.4 85.1L116.4 86.8L116.5 85.8L116.5 84.5L116.6 82.7L116.6 81.5L116.7 81.1L116.7 80.9L116.7 79.3L116.8 75.8L116.8 73.3L116.9 75.4L116.9 73.1L117.0 70.4L117.0 69.5L117.1 62.8L117.1 64.6L117.2 64.1L117.2 58.8L117.3 60.3L117.3 57.2L117.4 57.1L117.4 57.6L117.5 59.9L117.5 57.0L117.6 57.3L117.6 57.4L117.6 60.4L117.7 62.1L117.7 61.5L117.8 63.1L117.8 65.1L117.9 65.5L117.9 68.1L118.0 68.9L118.0 73.5L118.1 73.5L118.1 77.7L118.2 78.6L118.2 79.4L118.3 81.4L118.3 81.5L118.4 83.9L118.4 83.6L118.5 86.2L118.5 85.9L118.5 87.0L118.6 85.1L118.6 86.7L118.7 87.3L118.7 84.8L118.8 84.8L118.8 84.6L118.9 84.5L118.9 83.0L119.0 81.3L119.0 82.5L119.1 78.8L119.1 77.4L119.2 74.8L119.2 73.8L119.3 72.8L119.3 69.8L119.4 70.8L119.4 66.1L119.4 63.1L119.5 64.4L119.5 64.1L119.6 61.1L119.6 61.4L119.7 59.2L119.7 58.9L119.8 60.1L119.8 57.7L119.9 56.2L119.9 58.6L120.0 60.5L120.0 61.0L120.1 59.6L120.1 62.9L120.2 63.5L120.2 65.7L120.3 68.3L120.3 68.8L120.3 69.3L120.4 74.3L120.4 73.9L120.5 74.9L120.5 77.0L120.6 79.1L120.6 80.7L120.7 81.6L120.7 81.7L120.8 84.1L120.8 85.6L120.9 84.7L120.9 86.0L121.0 84.5L121.0 84.8L121.1 85.0L121.1 84.1L121.2 83.9L121.2 84.3L121.2 83.6L121.3 82.8L121.3 81.0L121.4 80.3L121.4 80.7L121.5 77.1L121.5 76.6L121.6 75.0L121.6 73.2L121.7 71.4L121.7 67.7L121.8 69.5L121.8 64.7L121.9 64.9L121.9 63.5L122.0 63.3L122.0 60.3L122.1 59.7L122.1 58.7L122.1 57.4L122.2 56.4L122.2 58.8L122.3 57.3L122.3 59.1L122.4 61.7L122.4 60.3L122.5 62.9L122.5 61.9L122.6 66.7L122.6 65.4L122.7 67.8L122.7 69.8L122.8 72.4L122.8 74.7L122.9 76.7L122.9 77.1L123.0 80.0L123.0 81.2L123.0 80.5L123.1 83.3L123.1 83.5L123.2 83.9L123.2 85.1L123.3 85.6L123.3 85.4L123.4 85.8L123.4 84.2L123.5 84.4L123.5 85.3L123.6 85.3L123.6 83.9L123.7 83.3L123.7 82.9L123.8 79.3L123.8 79.1L123.9 76.3L123.9 74.6L123.9 75.3L124.0 73.0L124.0 70.5L124.1 69.2L124.1 65.5L124.2 65.7L124.2 62.6L124.3 63.6L124.3 62.2L124.4 61.0L124.4 61.4L124.5 60.1L124.5 57.7L124.6 60.6L124.6 57.9L124.7 59.7L124.7 59.4L124.8 61.5L124.8 59.8L124.9 61.4L124.9 62.5L124.9 64.7L125.0 67.4L125.0 69.0L125.1 68.6L125.1 71.9L125.2 73.3L125.2 76.2L125.3 78.1L125.3 78.3L125.4 81.4L125.4 79.9L125.5 81.5L125.5 82.3L125.6 84.3L125.6 84.4L125.7 85.3L125.7 83.7L125.8 83.6L125.8 84.7L125.8 84.8L125.9 82.8L125.9 84.5L126.0 83.2L126.0 81.3L126.1 80.6L126.1 80.2L126.2 78.6L126.2 79.3L126.3 77.2L126.3 75.2L126.4 70.8L126.4 70.9L126.5 71.1L126.5 65.3L126.6 66.7L126.6 64.5L126.7 61.6L126.7 59.9L126.7 60.5L126.8 59.1L126.8 61.0L126.9 58.1L126.9 60.8L127.0 59.4L127.0 59.3L127.1 61.4L127.1 61.9L127.2 63.6L127.2 63.3L127.3 65.4L127.3 63.7L127.4 65.5L127.4 69.1L127.5 72.1L127.5 72.4L127.6 74.6L127.6 76.7L127.6 77.1L127.7 78.7L127.7 80.0L127.8 79.6L127.8 80.6L127.9 81.7L127.9 83.7L128.0 84.2L128.0 83.5L128.1 84.6L128.1 83.3L128.2 84.8L128.2 84.7L128.3 83.6L128.3 83.7L128.4 81.8L128.4 82.4L128.5 79.8L128.5 79.4L128.5 76.9L128.6 76.2L128.6 73.7L128.7 74.0L128.7 70.3L128.8 71.0L128.8 68.3L128.9 65.6L128.9 67.6L129.0 66.1L129.0 64.1L129.1 60.4L129.1 61.2L129.2 61.3L129.2 59.0L129.3 59.1L129.3 59.7L129.4 57.9L129.4 58.2L129.4 61.6L129.5 60.2L129.5 62.5L129.6 65.2L129.6 64.7L129.7 65.7L129.7 69.5L129.8 68.3L129.8 70.9L129.9 71.2L129.9 70.8L130.0 73.7L130.0 77.0L130.1 78.8L130.1 79.6L130.2 80.1L130.2 81.6L130.3 81.7L130.3 83.7L130.3 84.1L130.4 83.2L130.4 82.3L130.5 84.9L130.5 83.2L130.6 84.4L130.6 83.7L130.7 82.6L130.7 83.1L130.8 81.3L130.8 81.3L130.9 80.6L130.9 78.0L131.0 77.1L131.0 74.8L131.1 75.6L131.1 70.8L131.2 71.0L131.2 66.9L131.2 65.8L131.3 68.2L131.3 66.3L131.4 61.4L131.4 62.5L131.5 61.1L131.5 60.5L131.6 59.2L131.6 59.7L131.7 60.0L131.7 57.4L131.8 58.9L131.8 58.9L131.9 60.9L131.9 63.2L132.0 62.5L132.0 65.5L132.1 66.7L132.1 68.4L132.2 69.5L132.2 68.5L132.2 73.9L132.3 74.2L132.3 76.2L132.4 75.6L132.4 76.9L132.5 80.2L132.5 81.0L132.6 82.2L132.6 82.7L132.7 83.7L132.7 83.5L132.8 83.3L132.8 83.9L132.9 82.8L132.9 84.6L133.0 83.8L133.0 82.8L133.1 81.9L133.1 81.1L133.1 80.3L133.2 79.4L133.2 80.8L133.3 77.1L133.3 76.4L133.4 75.7L133.4 73.3L133.5 72.1L133.5 70.0L133.6 66.9L133.6 66.8L133.7 68.2L133.7 65.3L133.8 64.4L133.8 63.8L133.9 62.0L133.9 58.7L134.0 61.6L134.0 60.6L134.0 58.4L134.1 61.6L134.1 58.2L134.2 59.7L134.2 62.6L134.3 63.2L134.3 63.2L134.4 64.7L134.4 66.3L134.5 66.4L134.5 67.7L134.6 69.7L134.6 72.8L134.7 73.6L134.7 75.1L134.8 75.7L134.8 77.1L134.9 79.9L134.9 80.1L134.9 80.8L135.0 80.8L135.0 83.2L135.1 81.9L135.1 82.8L135.2 82.1L135.2 81.8L135.3 84.0L135.3 83.5L135.4 83.3L135.4 81.2L135.5 82.4L135.5 80.8L135.6 80.2L135.6 78.4L135.7 79.1L135.7 77.7L135.8 77.8L135.8 72.4L135.8 72.7L135.9 71.7L135.9 71.0L136.0 65.8L136.0 66.8L136.1 64.9L136.1 65.9L136.2 62.3L136.2 60.2L136.3 61.9L136.3 60.9L136.4 59.1L136.4 58.6L136.5 60.4L136.5 58.6L136.6 60.7L136.6 60.4L136.7 63.1L136.7 63.0L136.7 66.3L136.8 65.9L136.8 65.7L136.9 69.7L136.9 69.8L137.0 70.6L137.0 73.6L137.1 73.6L137.1 76.9L137.2 77.3L137.2 78.1L137.3 79.3L137.3 80.6L137.4 81.5L137.4 82.8L137.5 81.2L137.5 82.0L137.6 83.3L137.6 83.9L137.6 83.5L137.7 82.5L137.7 81.1L137.8 81.5L137.8 82.3L137.9 81.3L137.9 79.6L138.0 79.1L138.0 78.4L138.1 76.9L138.1 75.2L138.2 72.4L138.2 72.3L138.3 69.3L138.3 70.3L138.4 66.9L138.4 65.9L138.5 65.8L138.5 65.8L138.5 64.4L138.6 60.3L138.6 61.1L138.7 59.4L138.7 59.3L138.8 59.4L138.8 62.4L138.9 60.0L138.9 60.5L139.0 62.0L139.0 63.4L139.1 64.1L139.1 63.5L139.2 64.6L139.2 67.7L139.3 69.2L139.3 70.1L139.4 70.3L139.4 76.2L139.4 76.8L139.5 76.1L139.5 77.6L139.6 79.6L139.6 81.0L139.7 79.5L139.7 80.0L139.8 80.3L139.8 80.8L139.9 81.1L139.9 82.6L140.0 82.8L140.0 83.0L140.1 83.4L140.1 83.1L140.2 82.8L140.2 80.2L140.3 81.3L140.3 78.3L140.4 77.4L140.4 77.2L140.4 76.6L140.5 76.2L140.5 75.9L140.6 73.3L140.6 72.5L140.7 69.5L140.7 68.8L140.8 67.9L140.8 65.7L140.9 65.9L140.9 65.1L141.0 63.2L141.0 61.0L141.1 59.2L141.1 60.5L141.2 60.5L141.2 60.7L141.3 61.1L141.3 60.5L141.3 61.3L141.4 62.3L141.4 65.6L141.5 64.4L141.5 66.9L141.6 68.4L141.6 67.8L141.7 70.0L141.7 72.4L141.8 70.9L141.8 74.1L141.9 75.5L141.9 75.6L142.0 79.2L142.0 79.8L142.1 80.5L142.1 79.6L142.2 82.3L142.2 81.3L142.2 81.8L142.3 82.5L142.3 81.8L142.4 81.8L142.4 82.3L142.5 83.0L142.5 81.1L142.6 81.3L142.6 81.0L142.7 80.4L142.7 76.6L142.8 78.9L142.8 75.3L142.9 76.6L142.9 73.9L143.0 69.8L143.0 69.9L143.1 69.0L143.1 67.5L143.1 64.9L143.2 64.6L143.2 63.7L143.3 64.3L143.3 60.6L143.4 62.3L143.4 60.5L143.5 61.0L143.5 60.9L143.6 63.1L143.6 61.4L143.7 61.6L143.7 62.6L143.8 64.0L143.8 63.6L143.9 64.6L143.9 66.7L144.0 68.4L144.0 71.0L144.0 71.2L144.1 69.8L144.1 74.8L144.2 76.6L144.2 74.5L144.3 76.0L144.3 78.9L144.4 79.2L144.4 81.6L144.5 82.0L144.5 82.3L144.6 82.1L144.6 82.7L144.7 80.8L144.7 81.8L144.8 81.3L144.8 82.8L144.9 81.5L144.9 82.0L144.9 80.1L145.0 79.9L145.0 79.4L145.1 78.1L145.1 76.3L145.2 75.9L145.2 73.8L145.3 74.1L145.3 73.1L145.4 71.7L145.4 68.6L145.5 67.1L145.5 68.4L145.6 66.5L145.6 64.4L145.7 64.9L145.7 61.9L145.8 61.2L145.8 61.3L145.8 62.1L145.9 59.1L145.9 60.9L146.0 63.6L146.0 60.5L146.1 61.8L146.1 64.9L146.2 66.2L146.2 65.8L146.3 67.0L146.3 68.5L146.4 71.3L146.4 71.7L146.5 73.3L146.5 74.9L146.6 75.9L146.6 76.1L146.7 76.0L146.7 79.1L146.7 77.5L146.8 79.8L146.8 80.9L146.9 81.3L146.9 82.4L147.0 82.4L147.0 80.5L147.1 81.1L147.1 80.4L147.2 80.8L147.2 81.2L147.3 80.8L147.3 81.3L147.4 78.4L147.4 79.5L147.5 78.9L147.5 76.6L147.6 74.8L147.6 74.7L147.6 73.3L147.7 71.5L147.7 70.2L147.8 68.3L147.8 67.2L147.9 67.4L147.9 65.7L148.0 66.2L148.0 65.2L148.1 64.2L148.1 61.1L148.2 60.8L148.2 63.8L148.3 61.6L148.3 63.4L148.4 61.3L148.4 63.2L148.5 61.4L148.5 65.0L148.6 64.6L148.6 65.2L148.6 66.7L148.7 69.4L148.7 69.9L148.8 69.7L148.8 72.9L148.9 73.9L148.9 74.7L149.0 76.1L149.0 77.0L149.1 76.8L149.1 79.5L149.2 78.7L149.2 81.8L149.3 81.4L149.3 82.3L149.4 80.8L149.4 81.6L149.5 81.1L149.5 81.2L149.5 81.0L149.6 81.0L149.6 79.6L149.7 79.9L149.7 79.7L149.8 77.3L149.8 78.6L149.9 76.5L149.9 75.3L150.0 76.0L150.0 74.9L150.1 71.4L150.1 71.8L150.2 70.3L150.2 68.2L150.3 67.9L150.3 66.6L150.4 66.1L150.4 62.3L150.4 65.4L150.5 61.9L150.5 61.8L150.6 60.4L150.6 60.3L150.7 60.5L150.7 63.5L150.8 64.0L150.8 62.3L150.9 64.3L150.9 66.7L151.0 64.1L151.0 66.5L151.1 66.9L151.1 68.6L151.2 70.7L151.2 72.9L151.3 72.2L151.3 74.0L151.3 75.3L151.4 77.5L151.4 78.2L151.5 78.7L151.5 80.8L151.6 79.5L151.6 80.2L151.7 82.0L151.7 80.3L151.8 81.6L151.8 82.7L151.9 82.0L151.9 81.9L152.0 82.4L152.0 80.3L152.1 79.6L152.1 79.0L152.2 78.8L152.2 79.2L152.2 78.4L152.3 75.2L152.3 75.8L152.4 74.6L152.4 72.0L152.5 71.2L152.5 70.9L152.6 68.1L152.6 66.3L152.7 64.5L152.7 62.4L152.8 64.0L152.8 61.9L152.9 61.1L152.9 60.5L153.0 61.2L153.0 60.7L153.1 62.2L153.1 60.2L153.1 62.2L153.2 64.3L153.2 62.4L153.3 65.4L153.3 64.0L153.4 66.9L153.4 69.2L153.5 71.5L153.5 73.0L153.6 73.8L153.6 75.1L153.7 77.2L153.7 76.7L153.8 76.4L153.8 79.6L153.9 79.0L153.9 79.0L154.0 81.0L154.0 81.2L154.0 80.6L154.1 82.1L154.1 83.2L154.2 81.7L154.2 83.0L154.3 83.0L154.3 80.5L154.4 80.9L154.4 80.7L154.5 79.8L154.5 78.0L154.6 79.0L154.6 76.7L154.7 75.8L154.7 75.5L154.8 74.7L154.8 73.8L154.9 69.6L154.9 68.2L154.9 67.8L155.0 65.1L155.0 65.2L155.1 63.1L155.1 63.6L155.2 62.4L155.2 61.2L155.3 63.5L155.3 59.3L155.4 61.1L155.4 61.2L155.5 63.2L155.5 63.4L155.6 64.3L155.6 62.0L155.7 63.1L155.7 66.8L155.8 66.5L155.8 68.5L155.9 70.2L155.9 70.2L155.9 69.9L156.0 72.5L156.0 76.0L156.1 77.4L156.1 78.5L156.2 77.6L156.2 78.7L156.3 79.5L156.3 82.5L156.4 80.6L156.4 83.0L156.5 82.0L156.5 81.9L156.6 82.5L156.6 81.9L156.7 82.9L156.7 81.7L156.8 80.8L156.8 80.7L156.8 79.8L156.9 78.5L156.9 79.6L157.0 76.7L157.0 76.6L157.1 73.5L157.1 74.1L157.2 71.6L157.2 70.9L157.3 69.0L157.3 67.2L157.4 66.6L157.4 63.6L157.5 64.4L157.5 64.5L157.6 63.3L157.6 62.5L157.7 62.0L157.7 59.8L157.7 62.5L157.8 62.1L157.8 62.8L157.9 60.8L157.9 60.4L158.0 62.1L158.0 64.0L158.1 65.0L158.1 67.4L158.2 66.4L158.2 71.4L158.3 72.6L158.3 71.9L158.4 75.1L158.4 75.3L158.5 77.6L158.5 77.8L158.6 78.8L158.6 78.3L158.6 81.1L158.7 80.1L158.7 81.1L158.8 81.8L158.8 81.7L158.9 81.7L158.9 82.4L159.0 84.0L159.0 82.8L159.1 82.1L159.1 81.9L159.2 82.5L159.2 79.8L159.3 80.9L159.3 78.5L159.4 77.8L159.4 76.3L159.5 74.9L159.5 74.4L159.5 75.0L159.6 70.0L159.6 69.1L159.7 67.1L159.7 66.2L159.8 62.9L159.8 62.7L159.9 62.5L159.9 60.7L160.0 60.7L160.0 60.4L160.1 60.9L160.1 60.2L160.2 62.2L160.2 60.7L160.3 59.3L160.3 62.2L160.4 63.6L160.4 64.5L160.4 65.4L160.5 66.3L160.5 67.8L160.6 69.8L160.6 69.4L160.7 71.3L160.7 75.1L160.8 74.2L160.8 76.0L160.9 78.9L160.9 78.1L161.0 80.3L161.0 81.3L161.1 82.0L161.1 82.4L161.2 83.0L161.2 82.5L161.3 83.7L161.3 82.0L161.3 83.0L161.4 83.9L161.4 82.1L161.5 83.4L161.5 81.2L161.6 80.9L161.6 79.6L161.7 77.6L161.7 78.4L161.8 76.5L161.8 75.8L161.9 74.3L161.9 70.8L162.0 72.6L162.0 70.3L162.1 67.4L162.1 67.0L162.2 63.0L162.2 65.2L162.2 62.3L162.3 60.9L162.3 61.9L162.4 59.6L162.4 60.5L162.5 61.4L162.5 60.9L162.6 60.3L162.6 60.0L162.7 63.1L162.7 63.9L162.8 65.2L162.8 64.6L162.9 67.8L162.9 69.7L163.0 68.1L163.0 72.2L163.1 73.9L163.1 73.4L163.1 73.9L163.2 78.5L163.2 78.0L163.3 80.0L163.3 80.0L163.4 81.2L163.4 81.9L163.5 83.1L163.5 83.5L163.6 82.2L163.6 82.2L163.7 82.9L163.7 82.1L163.8 83.9L163.8 83.8L163.9 83.4L163.9 81.2L164.0 80.4L164.0 81.6L164.1 79.3L164.1 79.9L164.1 78.5L164.2 76.9L164.2 75.9L164.3 73.1L164.3 71.8L164.4 71.0L164.4 68.6L164.5 68.3L164.5 67.2L164.6 64.1L164.6 65.5L164.7 62.2L164.7 63.0L164.8 62.1L164.8 60.9L164.9 62.8L164.9 60.8L165.0 61.0L165.0 61.3L165.0 64.3L165.1 65.1L165.1 63.8L165.2 66.8L165.2 67.7L165.3 68.2L165.3 70.2L165.4 71.3L165.4 75.8L165.5 73.7L165.5 75.3L165.6 77.2L165.6 79.8L165.7 80.2L165.7 80.2L165.8 81.2L165.8 81.5L165.9 84.0L165.9 81.8L165.9 83.1L166.0 82.1L166.0 84.8L166.1 84.3L166.1 82.7L166.2 82.2L166.2 82.5L166.3 83.6L166.3 80.6L166.4 81.0L166.4 78.5L166.5 79.2L166.5 76.7L166.6 75.3L166.6 77.5L166.7 76.2L166.7 74.0L166.8 69.2L166.8 69.8L166.8 67.7L166.9 68.8L166.9 64.6L167.0 65.8L167.0 63.0L167.1 64.7L167.1 65.2L167.2 61.7L167.2 62.6L167.3 62.0L167.3 62.0L167.4 64.5L167.4 65.5L167.5 64.5L167.5 65.7L167.6 67.1L167.6 68.8L167.7 69.7L167.7 69.9L167.7 72.4L167.8 74.1L167.8 77.6L167.9 75.9L167.9 76.2L168.0 78.1L168.0 79.6L168.1 80.2L168.1 82.7L168.2 82.9L168.2 82.0L168.3 84.4L168.3 84.3L168.4 82.5L168.4 82.9L168.5 82.4L168.5 82.5L168.6 83.1L168.6 81.7L168.6 82.6L168.7 80.9L168.7 79.9L168.8 79.5L168.8 80.3L168.9 76.5L168.9 78.0L169.0 75.5L169.0 73.7L169.1 74.1L169.1 73.8L169.2 70.1L169.2 69.7L169.3 68.0L169.3 67.1L169.4 64.7L169.4 63.3L169.5 63.9L169.5 63.0L169.5 63.4L169.6 62.0L169.6 65.7L169.7 62.6L169.7 63.7L169.8 67.1L169.8 66.2L169.9 67.2L169.9 67.1L170.0 71.0L170.0 71.2L170.1 73.7L170.1 74.5L170.2 76.5L170.2 77.1L170.3 76.9L170.3 78.4L170.4 77.8L170.4 81.0L170.4 82.6L170.5 82.1L170.5 82.0L170.6 84.3L170.6 82.7L170.7 83.3L170.7 83.5L170.8 84.8L170.8 84.0L170.9 82.8L170.9 83.3L171.0 83.6L171.0 83.3L171.1 81.6L171.1 82.6L171.2 80.2L171.2 79.6L171.3 78.2L171.3 76.7L171.3 76.8L171.4 73.0L171.4 71.9L171.5 72.0L171.5 69.6L171.6 70.6L171.6 68.9L171.7 69.1L171.7 68.0L171.8 66.8L171.8 64.8L171.9 63.9L171.9 64.0L172.0 65.7L172.0 66.8L172.1 67.2L172.1 66.5L172.2 65.1L172.2 66.7L172.3 68.0L172.3 68.1L172.3 70.8L172.4 71.5L172.4 72.0L172.5 75.4L172.5 75.2L172.6 77.1L172.6 78.0L172.7 77.6L172.7 80.0L172.8 80.4L172.8 82.6L172.9 81.6L172.9 84.3L173.0 84.6L173.0 83.1L173.1 84.5L173.1 85.0L173.2 84.9L173.2 84.1L173.2 84.5L173.3 84.6L173.3 82.5L173.4 83.0L173.4 83.4L173.5 81.3L173.5 80.6L173.6 80.4L173.6 79.2L173.7 78.9L173.7 75.3L173.8 74.7L173.8 76.3L173.9 74.5L173.9 73.0L174.0 69.6L174.0 68.6L174.1 70.2L174.1 66.5L174.1 68.3L174.2 68.3L174.2 65.5L174.3 66.9L174.3 100.2L174.3 66.9L174.3 66.5L174.3 100.2L174.3 66.5L174.4 66.2L174.4 100.2L174.4 66.2L174.4 65.5L174.5 67.8L174.5 69.4L174.6 67.3L174.6 70.0L174.7 70.5L174.7 72.0L174.8 72.7L174.8 72.0L174.9 75.1L174.9 75.9L175.0 76.2L175.0 79.1L175.0 80.4L175.1 80.4L175.1 79.8L175.2 82.1L175.2 81.5L175.3 83.5L175.3 82.9L175.4 84.1L175.4 85.3L175.5 83.9L175.5 82.9L175.6 84.6L175.6 83.4L175.7 84.8L175.7 82.6L175.8 82.6L175.8 82.5L175.9 82.3L175.9 81.4L175.9 79.4L176.0 80.1L176.0 76.5L176.1 78.3L176.1 75.2L176.2 77.0L176.2 73.7L176.3 72.5L176.3 69.4L176.4 69.9L176.4 68.5L176.5 68.9L176.5 66.9L176.6 67.8L176.6 65.5L176.7 68.2L176.7 65.8L176.8 66.6L176.8 67.9L176.8 65.6L176.9 68.1L176.9 68.4L177.0 69.6L177.0 71.3L177.1 69.2L177.1 72.0L177.2 73.8L177.2 74.9L177.3 75.4L177.3 77.8L177.4 78.2L177.4 78.4L177.5 80.2L177.5 80.7L177.6 81.1L177.6 83.0L177.7 84.2L177.7 84.4L177.7 83.6L177.8 82.6L177.8 82.9L177.9 83.0L177.9 84.7L178.0 84.4L178.0 82.9L178.1 82.3L178.1 83.9L178.2 83.4L178.2 82.4L178.3 81.6L178.3 79.8L178.4 78.3L178.4 80.0L178.5 78.9L178.5 78.7L178.6 75.0L178.6 73.1L178.6 75.1L178.7 70.3L178.7 69.6L178.8 68.3L178.8 69.8L178.9 69.9L178.9 68.4L179.0 67.6L179.0 68.1L179.1 67.0L179.1 68.2L179.2 68.9L179.2 69.1L179.3 68.2L179.3 69.8L179.4 68.4L179.4 70.2L179.5 73.3L179.5 71.4L179.6 72.8L179.6 76.2L179.6 75.9L179.7 75.6L179.7 78.6L179.8 81.0L179.8 79.5L179.9 80.7L179.9 81.9L180.0 82.4L180.0 82.7L180.1 82.0L180.1 83.5L180.2 84.2L180.2 85.1L180.3 84.3L180.3 84.2L180.4 83.3L180.4 84.5L180.5 84.1L180.5 81.6L180.5 81.8L180.6 80.8L180.6 80.4L180.7 80.2L180.7 77.8L180.8 77.9L180.8 76.3L180.9 75.5L180.9 75.3L181.0 74.1L181.0 72.0L181.1 74.3L181.1 72.6L181.2 72.2L181.2 71.3L181.3 70.1L181.3 67.4L181.4 68.7L181.4 69.3L181.4 69.6L181.5 69.3L181.5 68.4L181.6 66.9L181.6 67.9L181.7 69.5L181.7 71.1L181.8 70.2L181.8 72.2L181.9 74.6L181.9 72.7L182.0 74.0L182.0 75.4L182.1 74.5L182.1 79.9L182.2 79.4L182.2 79.3L182.3 80.4L182.3 81.7L182.3 82.6L182.4 83.5L182.4 83.6L182.5 84.2L182.5 82.5L182.6 82.2L182.6 83.5L182.7 84.3L182.7 83.4L182.8 82.6L182.8 83.5L182.9 82.1L182.9 83.1L183.0 82.7L183.0 81.9L183.1 80.3L183.1 78.2L183.2 79.4L183.2 78.0L183.2 77.7L183.3 76.2L183.3 75.0L183.4 71.3L183.4 74.3L183.5 70.2L183.5 70.8L183.6 68.9L183.6 68.8L183.7 70.5L183.7 66.7L183.8 69.0L183.8 68.8L183.9 68.2L183.9 68.2L184.0 70.0L184.0 69.8L184.1 70.7L184.1 71.7L184.1 69.7L184.2 71.6L184.2 74.2L184.3 76.5L184.3 72.0L184.4 77.1L184.4 78.6L184.5 77.5L184.5 79.1L184.6 80.6L184.6 80.6L184.7 81.2L184.7 80.9L184.8 82.6L184.8 83.4L184.9 82.8L184.9 84.0L185.0 82.9L185.0 82.4L185.0 83.8L185.1 83.9L185.1 82.9L185.2 82.2L185.2 81.7L185.3 82.0L185.3 81.5L185.4 80.1L185.4 79.6L185.5 80.0L185.5 79.6L185.6 77.2L185.6 76.5L185.7 75.3L185.7 72.5L185.8 74.2L185.8 73.8L185.9 73.2L185.9 70.6L185.9 70.3L186.0 69.0L186.0 70.8L186.1 70.6L186.1 68.5L186.2 68.7L186.2 67.1L186.3 69.1L186.3 70.4L186.4 68.1L186.4 70.9L186.5 71.6L186.5 70.6L186.6 72.5L186.6 71.8L186.7 73.9L186.7 75.7L186.8 75.2L186.8 77.7L186.8 76.2L186.9 76.7L186.9 80.0L187.0 81.7L187.0 82.3L187.1 82.4L187.1 82.3L187.2 82.6L187.2 84.1L187.3 83.9L187.3 81.7L187.4 83.5L187.4 81.9L187.5 84.2L187.5 81.5L187.6 82.9L187.6 82.4L187.7 81.2L187.7 80.7L187.8 80.8L187.8 80.2L187.8 78.4L187.9 79.0L187.9 78.4L188.0 78.0L188.0 76.8L188.1 73.8L188.1 73.7L188.2 73.8L188.2 73.7L188.3 69.7L188.3 72.2L188.4 70.8L188.4 71.5L188.5 70.6L188.5 70.5L188.6 69.9L188.6 70.3L188.7 70.8L188.7 70.4L188.7 70.2L188.8 69.1L188.8 69.8L188.9 70.9L188.9 73.8L189.0 72.2L189.0 73.9L189.1 75.0L189.1 76.9L189.2 77.1L189.2 78.0L189.3 77.6L189.3 79.1L189.4 80.2L189.4 81.8L189.5 82.6L189.5 83.6L189.6 82.6L189.6 82.8L189.6 82.9L189.7 83.0L189.7 82.2L189.8 81.6L189.8 83.0L189.9 82.3L189.9 82.6L190.0 81.2L190.0 81.9L190.1 80.0L190.1 80.6L190.2 78.6L190.2 78.6L190.3 78.1L190.3 76.4L190.4 76.7L190.4 77.1L190.5 72.9L190.5 75.6L190.5 75.6L190.6 74.4L190.6 71.1L190.7 69.2L190.7 71.6L190.8 70.3L190.8 68.6L190.9 68.5L190.9 67.6L191.0 71.3L191.0 70.9L191.1 70.1L191.1 68.9L191.2 72.0L191.2 69.8L191.3 74.7L191.3 72.3L191.4 72.6L191.4 73.6L191.4 76.8L191.5 73.4L191.5 77.8L191.6 77.1L191.6 78.4L191.7 79.1L191.7 79.5L191.8 82.5L191.8 82.3L191.9 80.9L191.9 81.0L192.0 81.1L192.0 83.1L192.1 83.7L192.1 83.7L192.2 83.6L192.2 81.6L192.3 81.5L192.3 83.3L192.3 80.9L192.4 82.2L192.4 80.7L192.5 79.9L192.5 78.8L192.6 80.5L192.6 78.3L192.7 76.4L192.7 77.1L192.8 75.4L192.8 74.0L192.9 73.4L192.9 74.2L193.0 71.0L193.0 71.6L193.1 71.1L193.1 71.4L193.2 71.7L193.2 69.2L193.2 68.9L193.3 70.5L193.3 71.8L193.4 71.8L193.4 70.9L193.5 72.9L193.5 70.9L193.6 71.9L193.6 71.9L193.7 75.2L193.7 75.6L193.8 72.6L193.8 77.0L193.9 77.6L193.9 76.8L194.0 76.5L194.0 78.3L194.1 80.2L194.1 81.0L194.1 80.4L194.2 80.6L194.2 82.7L194.3 82.0L194.3 81.3L194.4 82.8L194.4 81.5L194.5 83.7L194.5 83.0L194.6 82.3L194.6 83.4L194.7 81.8L194.7 80.9L194.8 81.4L194.8 81.0L194.9 80.4L194.9 78.4L195.0 79.1L195.0 78.3L195.0 75.8L195.1 75.7L195.1 74.8L195.2 77.0L195.2 73.5L195.3 75.1L195.3 73.5L195.4 73.9L195.4 70.9L195.5 70.6L195.5 70.6L195.6 72.6L195.6 70.3L195.7 83.8L195.7 84.0L195.8 84.1L195.8 84.3L195.9 84.4L195.9 84.6L196.0 84.7L196.0 84.9L196.0 85.0L196.1 85.2L196.1 85.3L196.2 85.5L196.2 85.6L196.3 85.8L196.3 85.9L196.4 86.1L196.4 86.2L196.5 86.4L196.5 86.5L196.6 86.7L196.6 86.8L196.7 87.0L196.7 87.1L196.8 87.3L196.8 87.4L196.9 87.6L196.9 87.7L196.9 87.9L197.0 88.0L197.0 88.2L197.1 88.3L197.1 88.5L197.2 88.6L197.2 88.8L197.3 88.9L197.3 89.1L197.4 89.2L197.4 89.4L197.5 89.5L197.5 89.7L197.6 90.1L197.6 90.3L197.7 91.4L197.7 89.5L197.8 90.4L197.8 91.3L197.8 90.1L197.9 89.5L197.9 91.3L198.0 90.0L198.0 90.2L198.1 91.4L198.1 90.9L198.2 91.1L198.2 90.4L198.3 90.4L198.3 90.8L198.4 89.9L198.4 89.7L198.5 91.3L198.5 90.6L198.6 90.9L198.6 90.3L198.7 90.6L198.7 89.9L198.7 90.6L198.8 91.1L198.8 89.8L198.9 90.8L198.9 90.6L199.0 89.8L199.0 90.6L199.1 91.1L199.1 90.5L199.2 91.1L199.2 90.3L199.3 91.4L199.3 91.0L199.4 89.7L199.4 90.2L199.5 90.5L199.5 89.5L199.6 91.1L199.6 90.8L199.6 90.8L199.7 89.8L199.7 90.6L199.8 91.3L199.8 90.7L199.9 91.3L199.9 91.1L200.0 90.6L200.0 89.5L200.1 90.7L200.1 90.2L200.2 90.4L200.2 90.4L200.3 89.7L200.3 91.0L200.4 91.1L200.4 90.9L200.5 90.7L200.5 90.8L200.5 90.9L200.6 91.0L200.6 90.1L200.7 90.6L200.7 90.1L200.8 91.0L200.8 90.7L200.9 91.0L200.9 89.7L201.0 90.8L201.0 90.8L201.1 91.1L201.1 90.2L201.2 90.8L201.2 90.0L201.3 90.6L201.3 90.1L201.4 90.3L201.4 89.5L201.4 90.9L201.5 89.6L201.5 91.0L201.6 90.2L201.6 90.0L201.7 91.3L201.7 90.8L201.8 90.5L201.8 91.1L201.9 89.8L201.9 91.2L202.0 90.5L202.0 91.0L202.1 89.9L202.1 90.0L202.2 89.8L202.2 90.3L202.3 90.1L202.3 89.5L202.3 90.5L202.4 89.4L202.4 90.8L202.5 90.5L202.5 89.6L202.6 91.2L202.6 90.5L202.7 89.9L202.7 90.2L202.8 91.3L202.8 90.6L202.9 89.7L202.9 90.5L203.0 90.7L203.0 90.9L203.1 89.8L203.1 91.3L203.2 89.8L203.2 90.8L203.3 90.4L203.3 89.7L203.3 89.7L203.4 89.8L203.4 91.0L203.5 91.1L203.5 89.6L203.6 90.2L203.6 90.8L203.7 90.6L203.7 90.6L203.8 89.7L203.8 89.8L203.9 90.5L203.9 89.8L204.0 89.7L204.0 90.8L204.1 91.0L204.1 90.3L204.2 91.3L204.2 89.9L204.2 90.7L204.3 90.5L204.3 89.6L204.4 90.9L204.4 91.1L204.5 89.6L204.5 91.4L204.6 89.5L204.6 90.2L204.7 91.3L204.7 89.8L204.8 90.8L204.8 90.7L204.9 89.5L204.9 91.2L205.0 90.7L205.0 89.5L205.1 90.4L205.1 90.2L205.1 91.3L205.2 89.3L205.2 90.1L205.3 89.6L205.3 91.2L205.4 91.1L205.4 90.8L205.5 89.8L205.5 91.3L205.6 89.5L205.6 89.6L205.7 90.6L205.7 90.6L205.8 90.1L205.8 90.2L205.9 91.0L205.9 90.5L206.0 91.2L206.0 89.3L206.0 91.0L206.1 89.6L206.1 90.3L206.2 90.4L206.2 90.6L206.3 89.6L206.3 90.5L206.4 91.1L206.4 90.6L206.5 91.2L206.5 90.8L206.6 90.9L206.6 89.4L206.7 90.4L206.7 89.8L206.8 91.3L206.8 90.7L206.9 89.7L206.9 90.1L206.9 89.4L207.0 90.6L207.0 89.6L207.1 91.0L207.1 90.3L207.2 90.3L207.2 90.5L207.3 89.5L207.3 89.4L207.4 90.2L207.4 89.4L207.5 90.8L207.5 90.7L207.6 89.4L207.6 90.7L207.7 89.3L207.7 91.3L207.8 90.8L207.8 90.1L207.8 89.6L207.9 91.3L207.9 91.0L208.0 91.3L208.0 91.0L208.1 90.3L208.1 90.9L208.2 91.1L208.2 90.0L208.3 91.1L208.3 89.4L208.4 89.6L208.4 89.5L208.5 89.5L208.5 89.5L208.6 89.6L208.6 90.8L208.7 91.4L208.7 91.2L208.7 91.4L208.8 90.7L208.8 90.5L208.9 89.9L208.9 90.6L209.0 91.2L209.0 90.6L209.1 90.0L209.1 90.1L209.2 91.3L209.2 90.5L209.3 89.9L209.3 91.0L209.4 90.7L209.4 89.8L209.5 89.6L209.5 90.8L209.6 91.2L209.6 90.9L209.6 89.8L209.7 89.8L209.7 91.1L209.8 90.7L209.8 90.5L209.9 90.4L209.9 90.7L210.0 91.3L210.0 90.6L210.1 90.3L210.1 89.5L210.2 91.4L210.2 89.7L210.3 90.5L210.3 91.0L210.4 89.7L210.4 91.4L210.5 91.0L210.5 90.5L210.5 90.7L210.6 89.8L210.6 91.3L210.7 90.3L210.7 91.2L210.8 91.3L210.8 90.9L210.9 91.2L210.9 91.1L211.0 90.6L211.0 89.3L211.1 89.4L211.1 90.9L211.2 90.9L211.2 90.6L211.3 91.0L211.3 89.8L211.4 90.4L211.4 90.1L211.5 90.5L211.5 90.9L211.5 91.1L211.6 91.1L211.6 90.6L211.7 90.4L211.7 91.3L211.8 90.5L211.8 90.9L211.9 90.0L211.9 89.4L212.0 90.5L212.0 91.3L212.1 90.2L212.1 90.2L212.2 90.5L212.2 90.2L212.3 89.7L212.3 90.9L212.4 90.6L212.4 89.8L212.4 91.3L212.5 90.0L212.5 91.0L212.6 90.8L212.6 89.7L212.7 89.8L212.7 90.5L212.8 89.9L212.8 91.0L212.9 90.1L212.9 90.2L213.0 89.5L213.0 89.6L213.1 90.3L213.1 90.9L213.2 91.0L213.2 89.4L213.3 91.2L213.3 90.8L213.3 90.2L213.4 91.3L213.4 89.5L213.5 90.0L213.5 89.6L213.6 90.5L213.6 90.0L213.7 91.4L213.7 89.7L213.8 89.6L213.8 90.4L213.9 90.0L213.9 90.9L214.0 90.8L214.0 90.6L214.1 89.8L214.1 89.4L214.2 91.0L214.2 89.4L214.2 90.0L214.3 91.1L214.3 89.8L214.4 90.8L214.4 91.3L214.5 90.5L214.5 91.2L214.6 89.5L214.6 91.0L214.7 90.9L214.7 91.2L214.8 90.4L214.8 90.3L214.9 90.9L214.9 89.9L215.0 89.5L215.0 91.1L215.1 90.8L215.1 91.0" fill="none" stroke="#767676" stroke-width="0.55"/><path d="M25.5 107.5L25.6 107.4L25.7 107.5L25.8 106.7L25.9 105.5L26.0 106.5L26.1 107.7L26.2 106.5L26.3 106.2L26.4 106.2L26.4 106.9L26.5 106.4L26.6 106.4L26.7 105.6L26.8 104.4L26.9 106.1L27.0 106.3L27.1 107.2L27.2 107.0L27.3 106.7L27.4 105.7L27.5 105.5L27.6 106.2L27.7 104.9L27.8 104.4L27.9 106.3L28.0 104.8L28.1 105.8L28.2 106.7L28.2 107.0L28.3 105.9L28.4 105.3L28.5 106.2L28.6 105.4L28.7 105.2L28.8 107.3L28.9 106.3L29.0 105.5L29.1 104.9L29.2 107.0L29.3 105.4L29.4 106.4L29.5 104.5L29.6 105.7L29.7 104.4L29.8 105.0L29.9 105.8L30.0 106.4L30.1 106.6L30.1 106.6L30.2 107.1L30.3 104.4L30.4 104.9L30.5 105.4L30.6 107.0L30.7 104.5L30.8 105.8L30.9 105.5L31.0 106.8L31.1 104.6L31.2 107.3L31.3 106.2L31.4 106.1L31.5 104.5L31.6 105.7L31.7 105.7L31.8 106.1L31.9 105.4L31.9 107.4L32.0 104.7L32.1 104.6L32.2 106.0L32.3 106.0L32.4 105.8L32.5 105.7L32.6 104.9L32.7 105.0L32.8 106.3L32.9 106.8L33.0 104.5L33.1 106.9L33.2 105.1L33.3 105.8L33.4 106.6L33.5 106.7L33.6 107.0L33.7 105.6L33.7 105.7L33.8 107.1L33.9 105.7L34.0 107.1L34.1 104.5L34.2 104.8L34.3 106.7L34.4 105.4L34.5 106.1L34.6 107.0L34.7 105.5L34.8 104.5L34.9 105.2L35.0 104.5L35.1 105.5L35.2 105.0L35.3 107.1L35.4 107.2L35.5 107.0L35.5 105.1L35.6 104.6L35.7 106.9L35.8 106.0L35.9 104.8L36.0 105.3L36.1 106.2L36.2 104.5L36.3 105.0L36.4 107.3L36.5 105.6L36.6 105.8L36.7 105.6L36.8 105.7L36.9 105.0L37.0 105.0L37.1 107.1L37.2 104.6L37.3 105.9L37.4 105.0L37.4 106.8L37.5 106.3L37.9 101.0L38.8 45.8" fill="none" stroke="#111" stroke-width="0.8"/><path d="M195.9 83.8L197.6 90.6L197.7 88.6L197.8 88.8L197.8 89.6L197.9 91.0L198.0 90.6L198.1 91.3L198.2 89.3L198.3 89.9L198.4 89.5L198.5 90.7L198.6 92.0L198.7 90.9L198.8 91.1L198.9 90.8L199.0 91.0L199.1 90.9L199.2 89.1L199.3 91.9L199.4 90.9L199.5 90.2L199.6 91.0L199.6 89.8L199.7 89.5L199.8 90.8L199.9 89.7L200.0 91.0L200.1 90.6L200.2 89.3L200.3 91.7L200.4 90.2L200.5 90.4L200.6 89.4L200.7 91.3L200.8 89.8L200.9 90.2L201.0 89.1L201.1 89.1L201.2 89.3L201.3 90.2L201.4 91.1L201.4 89.2L201.5 90.7L201.6 91.0L201.7 90.9L201.8 89.0L201.9 91.6L202.0 89.1L202.1 89.7L202.2 89.4L202.3 89.9L202.4 89.2L202.5 92.0L202.6 90.3L202.7 89.6L202.8 91.1L202.9 88.9L203.0 91.7L203.1 90.6L203.2 91.5L203.2 89.8L203.3 89.3L203.4 91.5L203.5 89.0L203.6 90.5L203.7 89.1L203.8 90.2L203.9 89.5L204.0 91.0L204.1 90.7L204.2 90.7L204.3 88.9L204.4 91.2L204.5 89.5L204.6 89.7L204.7 88.9L204.8 89.1L204.9 90.1L205.0 92.0L205.1 88.8L205.1 89.1L205.2 89.8L205.3 90.9L205.4 92.0L205.5 90.0L205.6 88.9L205.7 91.4L205.8 91.6L205.9 91.1L206.0 89.0L206.1 89.1L206.2 88.8L206.3 89.8L206.4 90.1L206.5 90.1L206.6 90.3L206.7 90.4L206.8 89.1L206.9 91.6L206.9 89.2L207.0 90.4L207.1 89.4L207.2 89.0L207.3 91.4L207.4 91.9L207.5 89.2L207.6 92.0L207.7 90.1L207.8 91.6L207.9 90.7L208.0 89.8L208.1 89.1L208.2 89.5L208.3 90.7L208.4 89.1L208.5 89.9L208.6 89.3L208.7 89.9L208.7 92.0L208.8 89.1L208.9 90.4L209.0 90.2L209.1 89.5L209.2 88.8L209.3 90.5L209.4 90.3L209.5 90.1L209.6 90.8L209.7 91.7L209.8 89.2L209.9 91.4L210.0 91.7L210.1 92.0L210.2 89.5L210.3 90.4L210.4 89.7L210.5 90.1L210.5 89.7L210.6 89.3L210.7 92.1L210.8 91.1L210.9 91.2L211.0 90.7L211.1 91.9L211.2 89.0L211.3 91.0L211.4 89.9L211.5 91.8L211.6 90.0L211.7 89.8L211.8 92.0L211.9 91.8L212.0 90.6L212.1 89.5L212.2 91.6L212.3 90.3L212.4 92.0L212.4 90.2L212.5 88.8L212.6 91.5L212.7 90.3L212.8 90.6L212.9 91.8L213.0 91.7L213.1 89.9L213.2 90.8L213.3 90.0L213.4 91.2L213.5 90.9L213.6 91.5L213.7 89.5L213.8 88.9L213.9 89.0L214.0 91.0L214.1 91.7L214.2 88.7L214.2 88.7L214.3 90.7L214.4 89.5L214.5 89.8L214.6 88.8L214.7 89.7L214.8 91.9L214.9 90.6L215.0 92.0L215.1 89.2" fill="none" stroke="#1a1a1a" stroke-width="0.7"/><path d="M25.50 14.80V118.30H215.10" fill="none" stroke="#333" stroke-width="0.85"/><path d="M23.70 118.30H25.50" stroke="#1a1a1a" stroke-width="0.8"/><text x="23.60" y="121.10" text-anchor="end" class="tk">0.7</text><path d="M24.50 113.99H25.50" stroke="#1a1a1a" stroke-width="0.7"/><path d="M24.50 109.67H25.50" stroke="#1a1a1a" stroke-width="0.7"/><path d="M24.50 105.36H25.50" stroke="#1a1a1a" stroke-width="0.7"/><path d="M23.70 101.05H25.50" stroke="#1a1a1a" stroke-width="0.8"/><text x="23.60" y="103.85" text-anchor="end" class="tk">0.8</text><path d="M24.50 96.74H25.50" stroke="#1a1a1a" stroke-width="0.7"/><path d="M24.50 92.42H25.50" stroke="#1a1a1a" stroke-width="0.7"/><path d="M24.50 88.11H25.50" stroke="#1a1a1a" stroke-width="0.7"/><path d="M23.70 83.80H25.50" stroke="#1a1a1a" stroke-width="0.8"/><text x="23.60" y="86.60" text-anchor="end" class="tk">0.9</text><path d="M24.50 79.49H25.50" stroke="#1a1a1a" stroke-width="0.7"/><path d="M24.50 75.17H25.50" stroke="#1a1a1a" stroke-width="0.7"/><path d="M24.50 70.86H25.50" stroke="#1a1a1a" stroke-width="0.7"/><path d="M23.70 66.55H25.50" stroke="#1a1a1a" stroke-width="0.8"/><text x="23.60" y="69.35" text-anchor="end" class="tk">1.0</text><path d="M24.50 62.24H25.50" stroke="#1a1a1a" stroke-width="0.7"/><path d="M24.50 57.92H25.50" stroke="#1a1a1a" stroke-width="0.7"/><path d="M24.50 53.61H25.50" stroke="#1a1a1a" stroke-width="0.7"/><path d="M23.70 49.30H25.50" stroke="#1a1a1a" stroke-width="0.8"/><text x="23.60" y="52.10" text-anchor="end" class="tk">1.1</text><path d="M24.50 44.99H25.50" stroke="#1a1a1a" stroke-width="0.7"/><path d="M24.50 40.67H25.50" stroke="#1a1a1a" stroke-width="0.7"/><path d="M24.50 36.36H25.50" stroke="#1a1a1a" stroke-width="0.7"/><path d="M23.70 32.05H25.50" stroke="#1a1a1a" stroke-width="0.8"/><text x="23.60" y="34.85" text-anchor="end" class="tk">1.2</text><path d="M24.50 27.74H25.50" stroke="#1a1a1a" stroke-width="0.7"/><path d="M24.50 23.42H25.50" stroke="#1a1a1a" stroke-width="0.7"/><path d="M24.50 19.11H25.50" stroke="#1a1a1a" stroke-width="0.7"/><path d="M23.70 14.80H25.50" stroke="#1a1a1a" stroke-width="0.8"/><text x="23.60" y="17.60" text-anchor="end" class="tk">1.3</text><path d="M25.50 118.30V119.90" stroke="#1a1a1a" stroke-width="0.8"/><text x="25.50" y="127.40" text-anchor="middle" class="tk">0</text><path d="M49.20 118.30V119.90" stroke="#1a1a1a" stroke-width="0.8"/><text x="49.20" y="127.40" text-anchor="middle" class="tk">5</text><path d="M72.90 118.30V119.90" stroke="#1a1a1a" stroke-width="0.8"/><text x="72.90" y="127.40" text-anchor="middle" class="tk">10</text><path d="M96.60 118.30V119.90" stroke="#1a1a1a" stroke-width="0.8"/><text x="96.60" y="127.40" text-anchor="middle" class="tk">15</text><path d="M120.30 118.30V119.90" stroke="#1a1a1a" stroke-width="0.8"/><text x="120.30" y="127.40" text-anchor="middle" class="tk">20</text><path d="M144.00 118.30V119.90" stroke="#1a1a1a" stroke-width="0.8"/><text x="144.00" y="127.40" text-anchor="middle" class="tk">25</text><path d="M167.70 118.30V119.90" stroke="#1a1a1a" stroke-width="0.8"/><text x="167.70" y="127.40" text-anchor="middle" class="tk">30</text><path d="M191.40 118.30V119.90" stroke="#1a1a1a" stroke-width="0.8"/><text x="191.40" y="127.40" text-anchor="middle" class="tk">35</text><path d="M215.10 118.30V119.90" stroke="#1a1a1a" stroke-width="0.8"/><text x="215.10" y="127.40" text-anchor="middle" class="tk">40</text><path d="M34.98 14.30H196.14M34.98 11.90V16.70M196.14 11.90V16.70" stroke="#1a1a1a" stroke-width="0.95" fill="none"/><path d="M25.50 42.40H72.90M25.50 40.00V44.80M72.90 40.00V44.80" stroke="#1a1a1a" stroke-width="0.95" fill="none"/><path d="M82.38 36.30H101.34M82.38 33.90V38.70M101.34 33.90V38.70" stroke="#1a1a1a" stroke-width="0.95" fill="none"/><path d="M110.82 29.60H129.78M110.82 27.20V32.00M129.78 27.20V32.00" stroke="#1a1a1a" stroke-width="0.95" fill="none"/><path d="M139.26 24.10H158.22M139.26 21.70V26.50M158.22 21.70V26.50" stroke="#1a1a1a" stroke-width="0.95" fill="none"/><path d="M167.70 42.70H215.10M167.70 40.30V45.10M215.10 40.30V45.10" stroke="#1a1a1a" stroke-width="0.95" fill="none"/><path d="M72.90 42.40L82.38 36.30" stroke="#e5383f" stroke-width="1.05" stroke-dasharray="2 1.4"/><path d="M101.34 36.30L110.82 29.60" stroke="#e5383f" stroke-width="1.05" stroke-dasharray="2 1.4"/><path d="M129.78 29.60L139.26 24.10" stroke="#e5383f" stroke-width="1.05" stroke-dasharray="2 1.4"/><path d="M158.22 24.10L167.70 42.70" stroke="#3aa6a0" stroke-width="1.05" stroke-dasharray="2 1.4"/><text x="38.3" y="11.8" class="lb">4.0 mM Ca<tspan dy="-2.6" font-size="4.6">2+</tspan></text><text x="27.7" y="40.3" class="lb">33 °C</text><text x="85.6" y="34.3" class="lb">35 °C</text><text x="113.8" y="28.3" class="lb">37 °C</text><text x="141.2" y="22.6" class="lb">39 °C</text><text x="171" y="40.4" class="lb">33 °C</text><text x="120.5" y="5.6" text-anchor="middle" class="bt">WT-CaSR</text><text x="1.1" y="11.3" class="pl">A</text><text x="120.8" y="135.4" text-anchor="middle" class="al">Experiment Time (min)</text><text transform="translate(12.2 66.3) rotate(-90)" text-anchor="middle" class="al2">Ratio (F340/F380)</text><path d="M35.48 159.00V263.30M196.64 159.00V263.30" stroke="#c4c4c4" stroke-width="0.7"/><path d="M26.0 256.3L26.1 257.0L26.2 256.6L26.3 256.2L26.4 256.7L26.5 256.5L26.6 257.1L26.7 256.4L26.8 257.0L26.9 255.9L26.9 256.0L27.0 256.5L27.1 255.8L27.2 256.7L27.3 255.8L27.4 256.2L27.5 256.4L27.6 255.8L27.7 255.9L27.8 256.0L27.9 256.6L28.0 256.8L28.1 255.8L28.2 256.2L28.3 256.1L28.4 256.4L28.5 256.0L28.6 256.5L28.7 255.8L28.7 256.0L28.8 255.7L28.9 256.2L29.0 255.9L29.1 256.3L29.2 256.6L29.3 256.3L29.4 256.1L29.5 256.3L29.6 256.0L29.7 256.0L29.8 256.4L29.9 256.5L30.0 255.9L30.1 255.7L30.2 256.3L30.3 256.2L30.4 256.0L30.5 255.8L30.6 256.2L30.6 255.2L30.7 256.0L30.8 255.3L30.9 255.4L31.0 255.2L31.1 255.5L31.2 255.6L31.3 255.5L31.4 255.9L31.5 255.0L31.6 255.9L31.7 255.3L31.8 255.4L31.9 255.0L32.0 255.4L32.1 255.2L32.2 255.0L32.3 255.5L32.4 254.6L32.4 254.8L32.5 255.5L32.6 254.9L32.7 255.4L32.8 255.4L32.9 254.5L33.0 254.5L33.1 255.2L33.2 255.2L33.3 254.3L33.4 254.7L33.5 254.8L33.6 254.6L33.7 255.0L33.8 254.5L33.9 254.0L34.0 254.8L34.1 254.7L34.2 254.3L34.2 254.2L34.3 254.1L34.4 254.2L34.5 254.3L34.6 253.8L34.7 253.7L34.8 254.5L34.9 254.5L35.0 254.4L35.1 253.4L35.2 254.2L35.3 253.4L35.4 254.1L35.5 254.1L35.6 253.9L35.7 254.2L35.8 253.2L35.9 253.3L36.0 253.7L36.0 253.5L36.1 253.2L36.2 252.8L36.3 253.0L36.4 253.1L36.5 253.5L36.6 252.9L36.7 252.5L36.8 252.4L36.9 253.0L37.0 253.2L37.1 253.0L37.2 252.1L37.3 252.3L37.4 251.9L37.5 249.6L37.6 247.4L37.7 244.5L37.8 241.8L37.9 239.6L37.9 236.7L38.0 235.1L38.1 232.7L38.2 229.8L38.3 228.3L38.4 226.1L38.5 223.6L38.6 222.2L38.7 219.6L38.8 217.9L38.9 215.8L39.0 214.3L39.1 213.1L39.2 210.6L39.3 209.6L39.4 208.7L39.5 206.9L39.6 204.9L39.7 204.6L39.7 203.5L39.8 201.9L39.9 200.7L40.0 199.8L40.1 199.8L40.2 198.4L40.3 197.6L40.4 198.0L40.5 195.7L40.6 193.5L40.7 190.2L40.8 187.0L40.9 183.4L41.0 180.6L41.1 178.0L41.2 174.0L41.3 172.0L41.4 167.9L41.5 165.2L41.5 161.8L41.6 159.0L41.7 164.1L41.8 169.6L41.9 176.1L42.0 180.9L42.1 186.7L42.2 192.9L42.3 198.2L42.4 201.5L42.5 202.2L42.6 202.8L42.7 203.7L42.8 204.1L42.9 204.7L43.0 205.3L43.1 205.7L43.2 206.6L43.3 206.8L43.3 208.5L43.4 208.8L43.5 208.8L43.6 210.4L43.7 211.3L43.8 211.3L43.9 211.5L44.0 211.8L44.1 212.5L44.2 211.9L44.3 212.5L44.4 212.8L44.5 213.6L44.6 213.1L44.7 213.5L44.8 213.5L44.9 214.5L45.0 215.0L45.1 214.4L45.1 214.9L45.2 215.7L45.3 215.4L45.4 216.1L45.5 216.5L45.6 210.0L45.7 201.2L45.8 193.9L45.9 199.6L46.0 203.9L46.1 206.2L46.2 209.1L46.3 210.9L46.4 213.4L46.5 214.0L46.6 216.0L46.7 216.7L46.8 217.0L46.9 217.7L47.0 218.9L47.0 218.9L47.1 219.2L47.2 220.2L47.3 219.8L47.4 219.9L47.5 220.9L47.6 221.3L47.7 221.8L47.8 221.3L47.9 222.0L48.0 221.6L48.1 222.3L48.2 222.1L48.3 222.6L48.4 222.6L48.5 223.2L48.6 223.6L48.7 223.7L48.8 223.6L48.8 224.1L48.9 223.6L49.0 223.6L49.1 215.7L49.2 204.1L49.3 197.2L49.4 202.8L49.5 208.2L49.6 211.9L49.7 214.6L49.8 216.4L49.9 218.6L50.0 220.7L50.1 221.4L50.2 222.1L50.3 222.9L50.4 223.1L50.5 223.5L50.6 224.0L50.6 225.3L50.7 224.5L50.8 224.9L50.9 225.0L51.0 226.2L51.1 225.5L51.2 226.2L51.3 225.6L51.4 226.6L51.5 226.2L51.6 226.3L51.7 226.5L51.8 226.0L51.9 227.0L52.0 226.7L52.1 226.3L52.2 226.6L52.3 227.5L52.4 226.6L52.4 227.5L52.5 226.7L52.6 226.8L52.7 227.4L52.8 227.6L52.9 227.9L53.0 227.2L53.1 227.2L53.2 227.4L53.3 227.2L53.4 228.0L53.5 228.4L53.6 227.7L53.7 228.0L53.8 226.6L53.9 214.2L54.0 202.5L54.1 202.6L54.2 208.1L54.3 213.2L54.3 216.1L54.4 219.6L54.5 221.7L54.6 223.2L54.7 224.1L54.8 225.4L54.9 226.0L55.0 227.3L55.1 227.1L55.2 227.7L55.3 228.1L55.4 228.7L55.5 229.0L55.6 228.4L55.7 229.6L55.8 228.7L55.9 229.6L56.0 229.8L56.1 229.3L56.1 229.9L56.2 230.3L56.3 230.0L56.4 230.2L56.5 230.2L56.6 230.3L56.7 230.2L56.8 230.9L56.9 230.9L57.0 229.9L57.1 230.0L57.2 230.7L57.3 230.9L57.4 230.9L57.5 231.3L57.6 231.0L57.7 230.5L57.8 230.5L57.9 231.4L57.9 231.2L58.0 231.6L58.1 231.2L58.2 231.4L58.3 231.5L58.4 231.3L58.5 231.2L58.6 232.1L58.7 231.3L58.8 231.2L58.9 231.5L59.0 231.6L59.1 229.4L59.2 216.4L59.3 204.6L59.4 206.5L59.5 212.6L59.6 216.4L59.7 220.3L59.7 222.2L59.8 224.3L59.9 226.2L60.0 227.4L60.1 228.2L60.2 229.2L60.3 230.4L60.4 230.2L60.5 231.2L60.6 230.7L60.7 231.6L60.8 231.0L60.9 231.3L61.0 231.5L61.1 231.4L61.2 232.3L61.3 231.5L61.4 231.6L61.5 231.7L61.5 231.8L61.6 231.8L61.7 231.8L61.8 232.2L61.9 231.6L62.0 232.3L62.1 231.9L62.2 231.9L62.3 232.6L62.4 232.6L62.5 231.8L62.6 232.1L62.7 232.5L62.8 232.0L62.9 232.3L63.0 232.1L63.1 232.3L63.2 231.8L63.3 231.9L63.4 232.8L63.4 232.0L63.5 232.3L63.6 232.9L63.7 232.5L63.8 224.1L63.9 212.7L64.0 204.0L64.1 210.0L64.2 215.4L64.3 219.3L64.4 222.1L64.5 224.8L64.6 226.0L64.7 227.1L64.8 228.2L64.9 229.1L65.0 229.7L65.1 230.0L65.2 231.2L65.2 231.3L65.3 231.4L65.4 232.1L65.5 231.7L65.6 232.2L65.7 232.5L65.8 232.5L65.9 231.7L66.0 232.5L66.1 232.2L66.2 232.2L66.3 232.7L66.4 232.9L66.5 232.0L66.6 233.1L66.7 232.7L66.8 232.1L66.9 232.6L67.0 232.3L67.0 232.6L67.1 232.5L67.2 233.0L67.3 232.3L67.4 232.9L67.5 232.4L67.6 232.1L67.7 233.1L67.8 232.3L67.9 233.2L68.0 233.1L68.1 232.5L68.2 232.3L68.3 230.2L68.4 218.4L68.5 205.4L68.6 207.1L68.7 212.6L68.8 216.4L68.8 220.6L68.9 223.5L69.0 225.5L69.1 227.3L69.2 227.8L69.3 229.5L69.4 230.6L69.5 231.2L69.6 230.8L69.7 231.4L69.8 231.8L69.9 232.4L70.0 231.9L70.1 231.9L70.2 231.9L70.3 232.8L70.4 232.4L70.5 232.8L70.6 232.7L70.7 233.0L70.7 233.2L70.8 232.4L70.9 233.1L71.0 233.4L71.1 233.2L71.2 233.1L71.3 233.3L71.4 232.8L71.5 233.2L71.6 233.0L71.7 232.8L71.8 232.4L71.9 233.3L72.0 233.1L72.1 233.1L72.2 232.9L72.3 232.9L72.4 233.5L72.5 232.7L72.5 233.5L72.6 232.5L72.7 233.1L72.8 233.2L72.9 233.1L73.0 233.0L73.1 226.7L73.2 215.2L73.3 205.1L73.4 211.0L73.5 215.7L73.6 219.7L73.7 222.4L73.8 224.6L73.9 226.9L74.0 228.0L74.1 228.9L74.2 230.3L74.3 230.4L74.3 230.8L74.4 231.7L74.5 232.5L74.6 232.5L74.7 232.2L74.8 232.1L74.9 232.5L75.0 232.5L75.1 232.7L75.2 233.0L75.3 232.6L75.4 232.5L75.5 232.4L75.6 232.5L75.7 232.9L75.8 232.9L75.9 233.2L76.0 232.8L76.1 232.8L76.1 232.5L76.2 233.2L76.3 233.2L76.4 233.0L76.5 233.0L76.6 233.5L76.7 232.8L76.8 233.2L76.9 232.9L77.0 232.8L77.1 233.6L77.2 232.5L77.3 229.9L77.4 219.0L77.5 208.9L77.6 210.4L77.7 215.3L77.8 219.9L77.9 222.9L78.0 224.3L78.0 226.2L78.1 227.5L78.2 229.0L78.3 230.0L78.4 230.6L78.5 230.7L78.6 231.8L78.7 232.3L78.8 231.7L78.9 232.9L79.0 232.3L79.1 232.8L79.2 232.3L79.3 232.4L79.4 233.3L79.5 233.0L79.6 232.9L79.7 233.5L79.8 232.6L79.8 233.0L79.9 233.2L80.0 233.2L80.1 233.4L80.2 232.6L80.3 232.5L80.4 232.6L80.5 233.5L80.6 232.6L80.7 233.5L80.8 233.2L80.9 232.7L81.0 232.9L81.1 233.5L81.2 233.5L81.3 233.0L81.4 232.6L81.5 233.0L81.6 233.3L81.6 233.4L81.7 225.1L81.8 216.0L81.9 211.7L82.0 216.5L82.1 220.1L82.2 222.8L82.3 225.4L82.4 227.1L82.5 228.3L82.6 229.4L82.7 230.0L82.8 230.9L82.9 231.3L83.0 231.7L83.1 231.4L83.2 232.6L83.3 232.5L83.4 232.2L83.4 232.3L83.5 233.3L83.6 232.8L83.7 232.6L83.8 233.5L83.9 232.6L84.0 233.3L84.1 232.5L84.2 232.5L84.3 233.0L84.4 232.9L84.5 232.9L84.6 232.8L84.7 233.4L84.8 232.6L84.9 233.2L85.0 232.6L85.1 232.8L85.2 233.2L85.2 232.6L85.3 233.1L85.4 233.2L85.5 233.6L85.6 233.5L85.7 227.6L85.8 217.8L85.9 210.5L86.0 216.3L86.1 218.9L86.2 222.4L86.3 225.3L86.4 226.7L86.5 228.2L86.6 229.4L86.7 229.5L86.8 230.1L86.9 230.8L87.0 231.1L87.1 231.8L87.1 232.6L87.2 232.9L87.3 233.0L87.4 232.5L87.5 232.4L87.6 232.5L87.7 233.2L87.8 233.0L87.9 233.5L88.0 233.3L88.1 232.8L88.2 233.4L88.3 233.5L88.4 233.2L88.5 232.8L88.6 233.6L88.7 233.1L88.8 233.3L88.9 233.5L88.9 233.5L89.0 232.9L89.1 233.2L89.2 233.1L89.3 226.8L89.4 218.5L89.5 211.8L89.6 216.6L89.7 219.5L89.8 222.5L89.9 225.2L90.0 227.4L90.1 228.0L90.2 229.2L90.3 229.7L90.4 230.5L90.5 231.3L90.6 232.2L90.7 232.2L90.7 232.5L90.8 232.2L90.9 232.2L91.0 232.2L91.1 233.3L91.2 232.9L91.3 232.7L91.4 232.6L91.5 232.6L91.6 233.3L91.7 233.4L91.8 232.6L91.9 233.1L92.0 232.9L92.1 233.6L92.2 232.6L92.3 233.2L92.4 232.8L92.5 233.6L92.5 225.2L92.6 217.5L92.7 214.7L92.8 218.6L92.9 221.1L93.0 224.1L93.1 226.8L93.2 228.2L93.3 228.5L93.4 229.8L93.5 230.7L93.6 230.6L93.7 231.0L93.8 231.3L93.9 232.7L94.0 232.5L94.1 232.0L94.2 232.3L94.3 233.0L94.4 232.3L94.4 232.3L94.5 232.4L94.6 232.6L94.7 233.5L94.8 233.5L94.9 232.5L95.0 233.1L95.1 233.2L95.2 232.7L95.3 232.9L95.4 233.2L95.5 233.2L95.6 231.5L95.7 222.8L95.8 215.8L95.9 216.4L96.0 220.1L96.1 222.5L96.2 225.0L96.2 226.6L96.3 228.3L96.4 229.6L96.5 230.4L96.6 230.2L96.7 231.7L96.8 231.3L96.9 232.5L97.0 232.5L97.1 232.7L97.2 232.0L97.3 232.4L97.4 232.7L97.5 232.2L97.6 233.3L97.7 232.5L97.8 232.8L97.9 232.8L98.0 233.1L98.0 233.0L98.1 233.3L98.2 233.4L98.3 232.7L98.4 232.4L98.5 233.3L98.6 232.9L98.7 232.7L98.8 232.5L98.9 233.2L99.0 233.0L99.1 232.9L99.2 232.2L99.3 233.2L99.4 232.4L99.5 232.4L99.6 232.9L99.7 223.9L99.8 215.7L99.8 214.5L99.9 218.3L100.0 221.9L100.1 223.7L100.2 225.5L100.3 227.8L100.4 228.6L100.5 229.0L100.6 230.0L100.7 230.2L100.8 231.6L100.9 231.3L101.0 231.1L101.1 232.2L101.2 231.7L101.3 232.3L101.4 231.9L101.5 232.4L101.6 232.3L101.7 232.1L101.7 232.3L101.8 231.9L101.9 232.4L102.0 232.8L102.1 232.5L102.2 232.2L102.3 232.5L102.4 232.2L102.5 233.0L102.6 232.9L102.7 232.0L102.8 232.4L102.9 232.7L103.0 232.2L103.1 232.9L103.2 232.8L103.3 232.4L103.4 225.1L103.5 217.7L103.5 216.3L103.6 219.5L103.7 222.5L103.8 224.2L103.9 225.7L104.0 227.2L104.1 229.0L104.2 229.4L104.3 230.4L104.4 230.6L104.5 230.6L104.6 231.6L104.7 231.8L104.8 230.9L104.9 231.8L105.0 231.2L105.1 232.4L105.2 232.1L105.3 232.3L105.3 231.6L105.4 232.3L105.5 232.4L105.6 231.5L105.7 231.6L105.8 231.9L105.9 231.5L106.0 231.2L106.1 231.4L106.2 231.1L106.3 231.9L106.4 231.2L106.5 232.0L106.6 230.8L106.7 230.7L106.8 231.0L106.9 230.9L107.0 231.4L107.1 230.5L107.1 224.9L107.2 218.1L107.3 215.8L107.4 219.9L107.5 222.1L107.6 224.4L107.7 225.0L107.8 226.9L107.9 227.3L108.0 228.3L108.1 228.2L108.2 229.0L108.3 229.4L108.4 229.3L108.5 229.7L108.6 229.1L108.7 229.7L108.8 229.0L108.9 229.9L108.9 229.8L109.0 229.5L109.1 228.8L109.2 228.7L109.3 229.7L109.4 229.1L109.5 228.8L109.6 229.0L109.7 229.1L109.8 228.4L109.9 229.4L110.0 228.6L110.1 229.3L110.2 228.2L110.3 228.1L110.4 228.1L110.5 228.5L110.6 228.6L110.7 228.3L110.8 223.8L110.8 219.2L110.9 217.7L111.0 219.5L111.1 222.0L111.2 223.3L111.3 224.3L111.4 224.9L111.5 225.5L111.6 225.7L111.7 226.3L111.8 225.9L111.9 226.5L112.0 227.0L112.1 226.2L112.2 226.7L112.3 226.4L112.4 227.1L112.5 227.0L112.6 226.9L112.6 226.6L112.7 226.9L112.8 226.2L112.9 227.0L113.0 226.6L113.1 226.4L113.2 226.1L113.3 226.2L113.4 226.6L113.5 226.2L113.6 226.3L113.7 226.7L113.8 227.0L113.9 225.0L114.0 220.0L114.1 214.4L114.2 215.0L114.3 216.7L114.4 218.8L114.4 221.2L114.5 221.9L114.6 223.3L114.7 223.7L114.8 224.2L114.9 224.0L115.0 224.2L115.1 225.3L115.2 225.6L115.3 225.6L115.4 225.5L115.5 226.1L115.6 225.6L115.7 225.7L115.8 225.6L115.9 225.4L116.0 225.7L116.1 225.7L116.2 226.1L116.2 225.4L116.3 225.9L116.4 225.8L116.5 225.4L116.6 225.2L116.7 225.4L116.8 225.3L116.9 225.2L117.0 225.6L117.1 225.6L117.2 225.0L117.3 225.1L117.4 225.3L117.5 224.8L117.6 225.5L117.7 225.1L117.8 225.4L117.9 221.0L118.0 216.5L118.1 216.1L118.1 217.7L118.2 220.1L118.3 220.6L118.4 221.5L118.5 222.3L118.6 222.6L118.7 223.5L118.8 223.4L118.9 223.3L119.0 224.4L119.1 224.5L119.2 224.3L119.3 224.1L119.4 223.7L119.5 224.1L119.6 223.8L119.7 224.4L119.8 224.0L119.9 223.6L119.9 223.8L120.0 224.6L120.1 224.3L120.2 224.5L120.3 223.7L120.4 223.9L120.5 224.5L120.6 224.0L120.7 223.8L120.8 223.8L120.9 223.7L121.0 222.5L121.1 218.5L121.2 214.9L121.3 215.7L121.4 217.5L121.5 219.4L121.6 220.4L121.7 220.6L121.7 221.8L121.8 222.4L121.9 222.7L122.0 222.4L122.1 223.2L122.2 223.7L122.3 223.2L122.4 223.2L122.5 223.2L122.6 223.4L122.7 224.1L122.8 224.1L122.9 223.6L123.0 223.1L123.1 223.2L123.2 223.6L123.3 224.0L123.4 223.3L123.5 223.4L123.5 220.2L123.6 215.8L123.7 213.4L123.8 215.4L123.9 217.3L124.0 219.1L124.1 220.3L124.2 221.1L124.3 221.4L124.4 221.2L124.5 222.3L124.6 222.3L124.7 223.1L124.8 223.2L124.9 223.0L125.0 223.1L125.1 223.3L125.2 222.9L125.3 223.5L125.4 223.5L125.4 223.3L125.5 223.0L125.6 223.4L125.7 223.6L125.8 220.1L125.9 216.7L126.0 213.9L126.1 216.0L126.2 218.0L126.3 218.6L126.4 220.2L126.5 220.1L126.6 220.8L126.7 221.7L126.8 221.5L126.9 222.3L127.0 222.3L127.1 222.2L127.2 222.9L127.2 222.7L127.3 222.6L127.4 222.4L127.5 222.2L127.6 223.0L127.7 222.6L127.8 223.3L127.9 222.9L128.0 222.9L128.1 223.0L128.2 222.8L128.3 223.0L128.4 223.2L128.5 222.6L128.6 222.9L128.7 222.3L128.8 222.2L128.9 222.3L129.0 223.0L129.0 219.8L129.1 216.5L129.2 215.1L129.3 216.9L129.4 218.3L129.5 219.5L129.6 219.2L129.7 220.1L129.8 221.1L129.9 220.8L130.0 221.5L130.1 221.6L130.2 221.7L130.3 221.6L130.4 222.6L130.5 221.8L130.6 222.3L130.7 222.8L130.8 222.3L130.8 222.0L130.9 222.5L131.0 222.0L131.1 222.8L131.2 222.0L131.3 222.1L131.4 221.1L131.5 218.0L131.6 215.5L131.7 216.2L131.8 217.7L131.9 218.6L132.0 220.0L132.1 220.5L132.2 220.1L132.3 221.5L132.4 221.5L132.5 221.2L132.6 221.5L132.6 221.6L132.7 221.5L132.8 221.4L132.9 221.9L133.0 221.7L133.1 222.3L133.2 221.4L133.3 221.4L133.4 222.4L133.5 222.1L133.6 222.3L133.7 221.8L133.8 221.5L133.9 217.9L134.0 215.0L134.1 215.9L134.2 217.4L134.3 218.3L134.4 218.7L134.5 219.9L134.5 220.1L134.6 220.5L134.7 220.6L134.8 220.3L134.9 220.5L135.0 221.0L135.1 220.7L135.2 221.8L135.3 221.2L135.4 221.0L135.5 222.0L135.6 220.9L135.7 221.2L135.8 220.9L135.9 221.8L136.0 221.8L136.1 221.2L136.2 221.8L136.3 221.3L136.3 221.6L136.4 221.8L136.5 221.7L136.6 220.9L136.7 221.8L136.8 221.8L136.9 221.4L137.0 221.6L137.1 221.3L137.2 221.0L137.3 220.7L137.4 221.0L137.5 221.5L137.6 221.5L137.7 219.7L137.8 216.7L137.9 213.3L138.0 215.1L138.1 215.9L138.1 217.1L138.2 218.1L138.3 218.3L138.4 218.8L138.5 220.0L138.6 219.5L138.7 219.7L138.8 220.0L138.9 220.0L139.0 221.1L139.1 220.1L139.2 220.5L139.3 221.1L139.4 220.5L139.5 220.3L139.6 220.7L139.7 220.2L139.8 220.6L139.9 220.7L139.9 220.4L140.0 220.2L140.1 220.4L140.2 220.7L140.3 220.5L140.4 221.1L140.5 220.3L140.6 218.7L140.7 216.7L140.8 217.1L140.9 218.0L141.0 218.4L141.1 219.4L141.2 219.7L141.3 219.3L141.4 220.4L141.5 219.6L141.6 219.9L141.7 220.5L141.8 220.0L141.8 219.9L141.9 220.4L142.0 220.2L142.1 221.0L142.2 220.0L142.3 221.1L142.4 220.4L142.5 220.3L142.6 220.3L142.7 220.9L142.8 220.4L142.9 220.9L143.0 220.8L143.1 220.2L143.2 220.2L143.3 220.9L143.4 218.7L143.5 215.9L143.6 213.0L143.6 214.7L143.7 215.7L143.8 216.8L143.9 218.1L144.0 217.8L144.1 218.3L144.2 219.0L144.3 219.3L144.4 219.2L144.5 219.7L144.6 219.7L144.7 220.2L144.8 220.5L144.9 219.7L145.0 219.7L145.1 220.0L145.2 220.0L145.3 220.8L145.4 220.0L145.4 219.9L145.5 220.5L145.6 220.5L145.7 220.8L145.8 220.3L145.9 219.8L146.0 219.9L146.1 220.3L146.2 218.9L146.3 217.5L146.4 216.2L146.5 216.9L146.6 217.2L146.7 218.0L146.8 219.0L146.9 219.3L147.0 219.0L147.1 219.4L147.2 219.9L147.2 220.1L147.3 220.3L147.4 219.5L147.5 219.6L147.6 219.6L147.7 219.8L147.8 220.6L147.9 220.6L148.0 219.8L148.1 219.9L148.2 219.7L148.3 219.8L148.4 220.2L148.5 219.9L148.6 219.5L148.7 220.6L148.8 219.9L148.9 220.0L149.0 220.1L149.1 218.4L149.1 215.8L149.2 213.1L149.3 214.0L149.4 215.1L149.5 216.6L149.6 216.9L149.7 217.5L149.8 218.3L149.9 218.3L150.0 219.2L150.1 219.3L150.2 219.4L150.3 219.5L150.4 220.0L150.5 220.1L150.6 219.6L150.7 220.1L150.8 219.7L150.9 220.0L150.9 219.9L151.0 220.0L151.1 219.3L151.2 220.4L151.3 220.3L151.4 220.4L151.5 220.2L151.6 219.7L151.7 219.9L151.8 219.3L151.9 219.2L152.0 217.1L152.1 214.5L152.2 216.1L152.3 217.1L152.4 217.4L152.5 217.5L152.6 218.0L152.7 218.8L152.7 218.5L152.8 218.5L152.9 219.4L153.0 219.5L153.1 218.9L153.2 219.6L153.3 220.0L153.4 219.8L153.5 219.3L153.6 219.9L153.7 219.5L153.8 220.1L153.9 219.7L154.0 219.4L154.1 220.1L154.2 219.5L154.3 219.9L154.4 219.7L154.5 219.4L154.5 220.2L154.6 219.6L154.7 218.1L154.8 214.8L154.9 212.5L155.0 213.6L155.1 214.8L155.2 215.8L155.3 216.9L155.4 217.9L155.5 218.2L155.6 218.8L155.7 219.1L155.8 218.8L155.9 218.6L156.0 218.8L156.1 218.8L156.2 219.5L156.3 219.7L156.3 219.8L156.4 219.3L156.5 219.6L156.6 219.0L156.7 219.0L156.8 219.5L156.9 219.6L157.0 219.3L157.1 218.9L157.2 218.9L157.3 219.1L157.4 219.1L157.5 219.1L157.6 218.9L157.7 216.0L157.8 214.8L157.9 215.9L158.0 216.5L158.1 217.1L158.2 217.1L158.2 217.6L158.3 218.5L158.4 217.8L158.5 219.1L158.6 218.7L158.7 218.4L158.8 219.4L158.9 218.8L159.0 219.3L159.1 219.0L159.2 219.6L159.3 218.8L159.4 219.0L159.5 219.2L159.6 219.5L159.7 219.6L159.8 219.3L159.9 219.3L160.0 219.3L160.0 219.4L160.1 219.1L160.2 219.3L160.3 218.9L160.4 217.9L160.5 215.6L160.6 212.8L160.7 214.4L160.8 215.1L160.9 215.9L161.0 216.8L161.1 217.0L161.2 217.3L161.3 217.9L161.4 218.0L161.5 217.8L161.6 219.0L161.7 218.8L161.8 219.1L161.8 218.6L161.9 218.4L162.0 218.7L162.1 218.5L162.2 219.0L162.3 218.3L162.4 218.6L162.5 218.5L162.6 219.3L162.7 219.2L162.8 218.6L162.9 219.2L163.0 218.6L163.1 218.8L163.2 218.3L163.3 217.8L163.4 215.6L163.5 213.6L163.6 214.1L163.6 215.9L163.7 216.7L163.8 216.3L163.9 216.7L164.0 217.8L164.1 218.2L164.2 218.2L164.3 218.5L164.4 218.4L164.5 218.6L164.6 219.3L164.7 219.6L164.8 220.3L164.9 220.3L165.0 221.1L165.1 221.6L165.2 221.9L165.3 222.2L165.4 222.4L165.5 222.4L165.5 223.5L165.6 223.7L165.7 224.5L165.8 224.2L165.9 217.6L166.0 211.2L166.1 210.1L166.2 213.5L166.3 215.7L166.4 217.9L166.5 218.7L166.6 220.4L166.7 220.8L166.8 221.6L166.9 222.5L167.0 223.5L167.1 223.1L167.2 223.8L167.3 223.3L167.3 223.9L167.4 223.9L167.5 224.3L167.6 224.8L167.7 224.8L167.8 224.5L167.9 224.8L168.0 225.1L168.1 224.1L168.2 224.6L168.3 224.3L168.4 224.0L168.5 224.3L168.6 224.7L168.7 224.8L168.8 224.8L168.9 224.8L169.0 225.1L169.1 225.1L169.1 224.8L169.2 224.8L169.3 224.3L169.4 221.7L169.5 214.2L169.6 208.2L169.7 212.2L169.8 214.4L169.9 217.0L170.0 218.8L170.1 219.7L170.2 221.2L170.3 222.1L170.4 222.1L170.5 222.5L170.6 222.8L170.7 223.9L170.8 224.0L170.9 224.1L170.9 224.4L171.0 224.5L171.1 224.4L171.2 224.9L171.3 224.5L171.4 224.7L171.5 224.0L171.6 224.7L171.7 225.2L171.8 224.5L171.9 224.5L172.0 224.2L172.1 224.5L172.2 225.0L172.3 224.9L172.4 224.9L172.5 224.4L172.6 224.6L172.7 224.8L172.8 224.3L172.8 224.4L172.9 224.8L173.0 218.4L173.1 211.6L173.2 210.0L173.3 213.3L173.4 216.0L173.5 218.2L173.6 219.2L173.7 220.5L173.8 221.3L173.9 221.6L174.0 222.2L174.1 223.3L174.2 223.7L174.3 223.5L174.4 224.2L174.5 224.5L174.6 224.2L174.6 224.7L174.7 224.5L174.8 224.2L174.9 224.9L175.0 225.2L175.1 224.8L175.2 225.1L175.3 224.5L175.4 225.2L175.5 225.2L175.6 224.5L175.7 224.2L175.8 224.6L175.9 225.3L176.0 225.0L176.1 225.0L176.2 224.5L176.3 225.0L176.4 224.4L176.4 224.7L176.5 221.9L176.6 214.8L176.7 208.3L176.8 211.3L176.9 215.0L177.0 216.6L177.1 218.9L177.2 219.5L177.3 221.5L177.4 222.4L177.5 222.3L177.6 223.4L177.7 223.9L177.8 223.3L177.9 223.5L178.0 223.8L178.1 223.9L178.2 224.1L178.2 224.7L178.3 224.1L178.4 225.0L178.5 224.2L178.6 224.3L178.7 224.2L178.8 224.9L178.9 224.2L179.0 224.7L179.1 225.0L179.2 225.2L179.3 224.7L179.4 224.4L179.5 224.6L179.6 225.3L179.7 225.4L179.8 224.3L179.9 224.6L180.0 225.3L180.0 224.5L180.1 217.8L180.2 211.8L180.3 210.3L180.4 212.7L180.5 215.6L180.6 217.3L180.7 219.6L180.8 221.0L180.9 221.3L181.0 222.0L181.1 223.0L181.2 223.4L181.3 223.8L181.4 223.7L181.5 223.6L181.6 224.9L181.7 224.3L181.8 224.0L181.9 224.9L181.9 225.2L182.0 225.1L182.1 224.4L182.2 224.4L182.3 225.4L182.4 225.2L182.5 224.6L182.6 225.1L182.7 224.7L182.8 224.5L182.9 224.3L183.0 225.3L183.1 224.5L183.2 225.2L183.3 224.8L183.4 225.2L183.5 225.4L183.6 225.0L183.7 222.1L183.7 214.6L183.8 207.5L183.9 211.8L184.0 214.4L184.1 217.4L184.2 218.7L184.3 219.6L184.4 221.0L184.5 222.2L184.6 222.9L184.7 223.0L184.8 223.1L184.9 224.0L185.0 223.6L185.1 224.5L185.2 225.0L185.3 224.9L185.4 224.4L185.5 224.6L185.5 224.5L185.6 225.1L185.7 224.4L185.8 224.7L185.9 224.5L186.0 224.6L186.1 225.3L186.2 225.5L186.3 224.9L186.4 225.3L186.5 224.7L186.6 224.9L186.7 224.5L186.8 224.6L186.9 224.6L187.0 224.9L187.1 225.4L187.2 225.6L187.3 217.7L187.3 211.7L187.4 209.9L187.5 213.4L187.6 215.7L187.7 217.5L187.8 218.9L187.9 220.5L188.0 221.4L188.1 222.9L188.2 223.2L188.3 223.9L188.4 223.5L188.5 223.9L188.6 223.7L188.7 224.4L188.8 224.7L188.9 224.6L189.0 224.2L189.1 224.5L189.2 224.8L189.2 225.2L189.3 225.5L189.4 225.0L189.5 224.6L189.6 224.4L189.7 225.1L189.8 225.5L189.9 225.6L190.0 224.7L190.1 224.7L190.2 224.8L190.3 225.3L190.4 224.8L190.5 224.8L190.6 224.8L190.7 225.0L190.8 221.1L190.9 214.4L191.0 208.0L191.0 211.6L191.1 214.1L191.2 216.9L191.3 218.2L191.4 220.6L191.5 221.4L191.6 222.6L191.7 223.3L191.8 223.6L191.9 223.4L192.0 224.5L192.1 224.7L192.2 224.1L192.3 224.6L192.4 224.9L192.5 224.2L192.6 225.1L192.7 225.2L192.8 224.6L192.8 224.7L192.9 225.0L193.0 224.9L193.1 225.2L193.2 225.2L193.3 225.6L193.4 224.7L193.5 225.6L193.6 225.0L193.7 224.9L193.8 224.5L193.9 225.5L194.0 224.9L194.1 225.7L194.2 224.6L194.3 224.8L194.4 217.8L194.5 211.7L194.6 209.5L194.6 213.2L194.7 216.3L194.8 225.6L194.9 225.3L195.0 226.1L195.1 226.1L195.2 225.4L195.3 225.5L195.4 226.0L195.5 225.9L195.6 226.1L195.7 227.0L195.8 226.7L195.9 227.2L196.0 227.5L196.1 226.7L196.2 227.5L196.3 227.2L196.4 227.1L196.5 228.1L196.5 228.5L196.6 228.0L196.7 228.3L196.8 228.5L196.9 229.1L197.0 229.1L197.1 229.5L197.2 229.0L197.3 228.6L197.4 229.8L197.5 229.8L197.6 230.1L197.7 229.7L197.8 229.3L197.9 229.6L198.0 230.8L198.1 229.8L198.2 230.2L198.3 230.6L198.3 231.1L198.4 230.9L198.5 231.7L198.6 230.9L198.7 231.6L198.8 231.6L198.9 231.5L199.0 231.5L199.1 231.5L199.2 231.8L199.3 231.8L199.4 232.1L199.5 232.2L199.6 232.6L199.7 233.0L199.8 232.3L199.9 232.3L200.0 233.2L200.1 232.5L200.1 232.4L200.2 232.2L200.3 232.6L200.4 232.9L200.5 232.7L200.6 233.0L200.7 233.4L200.8 233.0L200.9 232.9L201.0 232.9L201.1 232.6L201.2 233.2L201.3 233.3L201.4 233.0L201.5 233.1L201.6 233.6L201.7 232.4L201.8 232.9L201.9 232.5L201.9 232.5L202.0 233.0L202.1 233.3L202.2 233.6L202.3 233.3L202.4 233.4L202.5 233.2L202.6 233.0L202.7 232.6L202.8 232.6L202.9 232.9L203.0 233.0L203.1 232.5L203.2 232.5L203.3 232.7L203.4 232.8L203.5 233.3L203.6 233.2L203.7 232.4L203.8 232.6L203.8 233.0L203.9 232.5L204.0 233.2L204.1 233.3L204.2 232.7L204.3 232.2L204.4 232.7L204.5 232.1L204.6 233.0L204.7 233.0L204.8 232.9L204.9 232.7L205.0 232.0L205.1 232.5L205.2 232.9L205.3 232.1L205.4 231.9L205.5 231.8L205.6 232.8L205.6 232.1L205.7 231.9L205.8 232.2L205.9 232.9L206.0 232.8L206.1 231.7L206.2 232.8L206.3 232.2L206.4 232.2L206.5 232.6L206.6 232.4L206.7 232.8L206.8 232.2L206.9 231.8L207.0 232.5L207.1 232.4L207.2 232.8L207.3 232.3L207.4 231.8L207.4 232.4L207.5 231.7L207.6 232.8L207.7 232.0L207.8 232.7L207.9 232.7L208.0 231.9L208.1 231.8L208.2 232.0L208.3 232.3L208.4 231.7L208.5 232.7L208.6 232.4L208.7 232.4L208.8 231.8L208.9 232.4L209.0 232.5L209.1 232.2L209.2 233.0L209.2 232.4L209.3 232.0L209.4 232.0L209.5 232.7L209.6 232.6L209.7 232.7L209.8 232.7L209.9 233.0L210.0 233.0L210.1 233.3L210.2 233.2L210.3 232.6L210.4 232.9L210.5 233.4L210.6 233.2L210.7 232.7L210.8 233.5L210.9 233.1L211.0 233.0L211.0 233.2L211.1 233.1L211.2 233.6L211.3 232.7L211.4 233.2L211.5 233.5L211.6 232.9L211.7 232.7L211.8 233.6L211.9 232.9L212.0 233.3L212.1 233.0L212.2 232.7L212.3 232.9L212.4 232.8L212.5 233.5L212.6 232.6L212.7 233.0L212.8 233.3L212.9 233.2L212.9 232.9L213.0 233.3L213.1 233.5L213.2 233.0L213.3 232.4L213.4 233.3L213.5 232.9L213.6 232.9L213.7 232.4L213.8 232.4L213.9 233.1L214.0 233.2L214.1 233.3L214.2 233.3L214.3 233.1L214.4 232.4L214.5 232.5L214.6 232.9L214.7 232.1L214.7 232.5L214.8 232.8L214.9 232.0L215.0 232.0L215.1 232.2L215.2 232.8L215.3 232.7L215.4 232.9L215.5 232.1L215.6 232.2" fill="none" stroke="#7c7c7c" stroke-width="0.7"/><path d="M26.0 256.7L26.2 257.3L26.4 256.7L26.6 256.7L26.8 256.7L26.9 256.0L27.1 256.6L27.3 256.5L27.5 256.8L27.7 257.0L27.9 256.6L28.1 256.0L28.3 255.6L28.5 255.9L28.7 255.9L28.8 255.8L29.0 256.2L29.2 255.6L29.4 255.8L29.6 256.4L29.8 255.7L30.0 255.5L30.2 256.0L30.4 256.2L30.6 255.2L30.7 255.4L30.9 255.5L31.1 254.8L31.3 255.4L31.5 255.4L31.7 255.1L31.9 254.8L32.1 254.8L32.3 255.5L32.4 254.9L32.6 254.8L32.8 254.8L33.0 255.3L33.2 254.9L33.4 254.9L33.6 254.1L33.8 255.1L34.0 255.1L34.2 253.7L34.3 254.8L34.5 254.2L34.7 253.6L34.9 254.5L35.1 253.3L35.3 253.6L35.5 253.7L35.7 253.1L35.9 253.3L36.0 253.1L36.2 253.6L36.4 253.0L36.6 253.3L36.8 252.5L37.0 252.4L37.2 252.7M47.8 221.6L48.0 221.5L48.2 222.5L48.4 223.0L48.6 223.3L48.8 223.2L48.9 223.3M50.3 223.6L50.5 224.0L50.6 225.0L50.8 225.7L51.0 226.1L51.2 225.3L51.4 225.8L51.6 225.6L51.8 227.1L52.0 227.4L52.2 226.9L52.4 226.3L52.5 227.8L52.7 227.7L52.9 227.2L53.1 228.1L53.3 228.0L53.5 228.3L53.7 228.8M55.0 227.0L55.2 227.8L55.4 228.9L55.6 228.9L55.8 229.3L56.0 228.8L56.1 229.9L56.3 229.4L56.5 229.5L56.7 230.9L56.9 229.7L57.1 230.5L57.3 231.0L57.5 230.8L57.7 230.9L57.9 231.3L58.0 230.8L58.2 232.0L58.4 231.7L58.6 231.3L58.8 231.9L59.0 232.1M60.3 229.7L60.5 230.9L60.7 231.2L60.9 231.7L61.1 232.5L61.3 232.5L61.5 232.2L61.6 232.8L61.8 232.5L62.0 232.0L62.2 232.2L62.4 232.4L62.6 232.7L62.8 233.0L63.0 232.5L63.2 233.0L63.4 232.6L63.5 232.1L63.7 232.3M65.1 231.3L65.2 231.1L65.4 231.3L65.6 232.7L65.8 232.9L66.0 232.9L66.2 232.4L66.4 233.0L66.6 232.3L66.8 232.8L67.0 232.2L67.1 232.7L67.3 232.0L67.5 232.9L67.7 232.1L67.9 232.5L68.1 232.9L68.3 229.8M69.4 230.7L69.6 230.8L69.8 232.4L70.0 231.9L70.2 233.0L70.4 233.1L70.6 233.3L70.7 232.3L70.9 232.9L71.1 232.8L71.3 232.8L71.5 232.5L71.7 233.2L71.9 233.3L72.1 232.3L72.3 233.2L72.5 233.4L72.6 233.0L72.8 232.6L73.0 233.6M74.2 230.4L74.3 231.0L74.5 232.4L74.7 233.1L74.9 233.0L75.1 233.4L75.3 233.3L75.5 232.9L75.7 233.7L75.9 232.8L76.1 233.2L76.2 232.5L76.4 233.7L76.6 233.8L76.8 233.1L77.0 232.4L77.2 232.6M78.5 230.5L78.7 232.4L78.9 231.7L79.1 233.3L79.3 232.5L79.5 232.6L79.7 233.4L79.8 233.6L80.0 232.6L80.2 232.8L80.4 232.8L80.6 232.4L80.8 233.4L81.0 233.7L81.2 232.4L81.4 233.5L81.6 233.5M82.7 229.7L82.9 231.5L83.1 232.5L83.3 232.3L83.4 232.5L83.6 233.3L83.8 232.3L84.0 233.6L84.2 233.6L84.4 232.7L84.6 233.7L84.8 233.1L85.0 233.4L85.2 232.9L85.3 233.6L85.5 233.4M86.9 230.6L87.1 231.6L87.2 232.3L87.4 232.3L87.6 233.3L87.8 233.0L88.0 232.7L88.2 233.6L88.4 233.0L88.6 233.6L88.8 233.4L88.9 232.9L89.1 232.3M90.3 229.5L90.5 230.8L90.7 232.7L90.8 231.9L91.0 233.0L91.2 232.5L91.4 233.4L91.6 232.6L91.8 233.5L92.0 232.5L92.2 232.9L92.4 233.8M93.5 230.3L93.7 231.3L93.9 231.7L94.1 232.2L94.3 232.3L94.4 233.2L94.6 232.3L94.8 233.3L95.0 233.4L95.2 232.4L95.4 233.7L95.6 232.0M96.5 229.6L96.7 231.3L96.9 231.9L97.1 232.4L97.3 232.6L97.5 233.2L97.7 232.7L97.9 232.4L98.0 233.3L98.2 233.4L98.4 233.5L98.6 232.8L98.8 233.3L99.0 233.3L99.2 232.1L99.4 232.3L99.6 232.9M100.7 230.1L100.9 231.4L101.1 231.8L101.3 232.5L101.5 232.5L101.7 231.6L101.8 233.1L102.0 233.0L102.2 231.9L102.4 232.2L102.6 232.4L102.8 231.7L103.0 231.6L103.2 232.7M104.3 230.1L104.5 231.1L104.7 231.6L104.9 231.5L105.1 232.1L105.3 232.3L105.4 231.8L105.6 231.4L105.8 232.0L106.0 232.0L106.2 231.4L106.4 231.5L106.6 231.3L106.8 231.1L107.0 230.9M108.1 227.8L108.3 229.5L108.5 229.5L108.7 230.0L108.9 228.8L109.0 230.0L109.2 229.0L109.4 229.0L109.6 229.1L109.8 229.5L110.0 228.7L110.2 228.9L110.4 228.4L110.6 228.8M111.5 226.0L111.7 225.9L111.9 226.0L112.1 226.7L112.3 226.7L112.5 226.2L112.6 227.1L112.8 226.1L113.0 226.2L113.2 227.3L113.4 226.1L113.6 226.3L113.8 226.8M114.7 223.0L114.9 224.3L115.1 225.0L115.3 225.3L115.5 224.8L115.7 226.0L115.9 225.9L116.1 225.6L116.2 225.9L116.4 226.2L116.6 226.0L116.8 224.7L117.0 225.1L117.2 225.1L117.4 225.3L117.6 225.0L117.8 224.2M118.5 222.7L118.7 222.9L118.9 224.1L119.1 224.4L119.3 224.3L119.5 224.1L119.7 223.9L119.9 224.9L120.0 224.5L120.2 224.0L120.4 224.8L120.6 224.0L120.8 223.4L121.0 222.8M121.7 222.2L121.9 222.4L122.1 223.3L122.3 223.0L122.5 223.5L122.7 223.8L122.9 224.4L123.1 224.0L123.3 224.3L123.5 224.1L123.6 214.6L123.8 216.1L124.0 218.2L124.2 221.1L124.4 222.2L124.6 222.6L124.8 223.4L125.0 223.0L125.2 223.8L125.4 223.9L125.5 222.6L125.7 223.4L125.9 216.4L126.1 215.5L126.3 218.8L126.5 220.6L126.7 221.2L126.9 222.5L127.1 222.9L127.2 222.5L127.4 222.2L127.6 223.1L127.8 223.3L128.0 223.1L128.2 222.7L128.4 222.4L128.6 222.9L128.8 223.3L129.0 223.0L129.1 216.8L129.3 217.2L129.5 219.0L129.7 220.1L129.9 220.9L130.1 221.4L130.3 221.6L130.5 222.9L130.7 222.4L130.8 222.5L131.0 222.0L131.2 222.2L131.4 221.3L131.6 214.9L131.8 218.4L132.0 219.2L132.2 221.0L132.4 220.9L132.6 221.5L132.7 221.2L132.9 221.2L133.1 221.2L133.3 221.8L133.5 221.4L133.7 221.6L133.9 218.2L134.1 215.2L134.3 218.4L134.5 218.8L134.6 221.0L134.8 220.2L135.0 221.6L135.2 221.5L135.4 222.0L135.6 221.4L135.8 221.5L136.0 220.9L136.2 221.9L136.3 220.7L136.5 221.6L136.7 221.7L136.9 222.0L137.1 222.0L137.3 222.0L137.5 221.2L137.7 219.2L137.9 212.8L138.1 215.7L138.2 218.0L138.4 219.7L138.6 219.5L138.8 220.5L139.0 220.4L139.2 221.3L139.4 220.8L139.6 220.5L139.8 221.5L139.9 220.7L140.1 220.5L140.3 221.5L140.5 219.6L140.7 216.2L140.9 218.6L141.1 219.6L141.3 219.6L141.5 219.4L141.7 220.7L141.8 220.1L142.0 221.2L142.2 220.3L142.4 220.8L142.6 220.0L142.8 220.2L143.0 220.9L143.2 220.7L143.4 218.6L143.6 213.3L143.7 216.1L143.9 217.8L144.1 218.8L144.3 219.6L144.5 219.7L144.7 220.2L144.9 219.7L145.1 220.2L145.3 220.5L145.4 220.5L145.6 219.8L145.8 220.3L146.0 221.0L146.2 219.3L146.4 216.1L146.6 217.3L146.8 219.3L147.0 219.4L147.2 220.3L147.3 220.4L147.5 219.9L147.7 220.7L147.9 220.8L148.1 220.3L148.3 220.1L148.5 220.0L148.7 219.9L148.9 219.5L149.1 217.9L149.2 212.8L149.4 216.2L149.6 217.8L149.8 218.5L150.0 219.4L150.2 218.6L150.4 219.4L150.6 219.9L150.8 219.9L150.9 220.0L151.1 220.5L151.3 219.6L151.5 220.1L151.7 220.2L151.9 219.3L152.1 214.7L152.3 216.9L152.5 217.7L152.7 219.4L152.8 219.1L153.0 219.5L153.2 219.3L153.4 219.7L153.6 220.1L153.8 218.9L154.0 219.0L154.2 219.8L154.4 220.0L154.5 219.7L154.7 218.4L154.9 212.6L155.1 215.4L155.3 217.1L155.5 217.2L155.7 219.2L155.9 219.0L156.1 219.8L156.3 218.7L156.4 218.9L156.6 219.7L156.8 218.9L157.0 219.9L157.2 219.0L157.4 218.6L157.6 218.8L157.8 214.7L158.0 215.7L158.2 217.3L158.3 217.8L158.5 218.2L158.7 218.2L158.9 219.2L159.1 218.9L159.3 219.0L159.5 219.3L159.7 219.2L159.9 218.9L160.0 218.8L160.2 218.6L160.4 217.2L160.6 212.4L160.8 215.7L161.0 216.9L161.2 217.8L161.4 218.2L161.6 219.0L161.8 219.0L161.9 218.4L162.1 219.3L162.3 218.7L162.5 218.3L162.7 219.1L162.9 219.1L163.1 219.5L163.3 217.4L163.5 213.0L163.6 215.1L163.8 217.4L164.0 217.0L164.2 218.6L164.4 217.8L164.6 219.3L164.8 220.1L165.0 221.0L165.2 221.2L165.4 222.8L165.5 223.1L165.7 224.1M166.9 222.6L167.1 222.7L167.3 223.6L167.4 223.7L167.6 225.0L167.8 225.0L168.0 225.2L168.2 224.0L168.4 225.2L168.6 224.7L168.8 225.3L169.0 224.2L169.1 225.3L169.3 225.0M170.3 221.5L170.5 222.6L170.7 224.2L170.9 223.8L171.0 223.6L171.2 223.9L171.4 224.6L171.6 223.9L171.8 224.6L172.0 224.0L172.2 224.5L172.4 224.5L172.6 224.6L172.8 224.1L172.9 224.7M173.9 221.9L174.1 223.2L174.3 224.1L174.5 224.4L174.6 223.7L174.8 225.2L175.0 224.3L175.2 225.1L175.4 224.4L175.6 224.7L175.8 224.9L176.0 224.2L176.2 224.0L176.4 225.4M177.5 222.9L177.7 223.7L177.9 224.4L178.1 223.8L178.2 225.0L178.4 224.0L178.6 225.2L178.8 225.4L179.0 224.9L179.2 225.1L179.4 224.2L179.6 225.0L179.8 225.4L180.0 225.2M181.1 222.8L181.3 223.5L181.5 224.2L181.7 224.0L181.9 224.3L182.0 225.1L182.2 225.2L182.4 224.3L182.6 224.2L182.8 224.8L183.0 224.5L183.2 225.4L183.4 225.1L183.6 225.2M184.5 221.8L184.7 223.3L184.9 224.2L185.1 224.6L185.3 224.1L185.5 225.3L185.6 224.4L185.8 224.6L186.0 224.5L186.2 224.7L186.4 225.4L186.6 224.8L186.8 225.1L187.0 225.2L187.2 225.5M188.1 223.0L188.3 223.1L188.5 223.5L188.7 223.7L188.9 225.1L189.1 224.1L189.2 225.5L189.4 224.8L189.6 224.3L189.8 225.2L190.0 224.8L190.2 225.6L190.4 225.0L190.6 225.6M191.7 223.0L191.9 223.3L192.1 224.8L192.3 224.6L192.5 225.5L192.7 224.5L192.8 224.4L193.0 225.0L193.2 225.6L193.4 225.4L193.6 225.3L193.8 224.9L194.0 224.7L194.2 225.7M194.9 226.2L195.1 225.5L195.3 226.4L195.5 226.6L195.7 226.4L195.9 226.7L196.1 227.8L196.3 227.3L196.5 228.0L196.6 228.6L196.8 228.9L197.0 229.4L197.2 229.7L197.4 229.4L197.6 230.2L197.8 229.9L198.0 230.5L198.2 231.1L198.3 230.8L198.5 231.8L198.7 230.8L198.9 231.4L199.1 231.3L199.3 232.6L199.5 232.7L199.7 233.2L199.9 232.4L200.1 232.3L200.2 233.3L200.4 232.6L200.6 232.6L200.8 232.8L201.0 233.2L201.2 232.4L201.4 232.8L201.6 233.1L201.8 232.5L201.9 232.3L202.1 232.9L202.3 232.8L202.5 232.7L202.7 232.4L202.9 232.6L203.1 232.9L203.3 233.0L203.5 232.7L203.7 233.0L203.8 233.0L204.0 233.1L204.2 232.2L204.4 232.8L204.6 232.6L204.8 232.8L205.0 232.1L205.2 232.4L205.4 231.9L205.6 231.9L205.7 233.0L205.9 232.0L206.1 232.8L206.3 232.4L206.5 232.7L206.7 232.9L206.9 231.6L207.1 231.6L207.3 232.5L207.4 232.2L207.6 232.5L207.8 232.5L208.0 231.7L208.2 232.6L208.4 231.9L208.6 232.7L208.8 232.3L209.0 232.6L209.2 231.8L209.3 232.6L209.5 232.5L209.7 232.5L209.9 233.4L210.1 232.2L210.3 232.7L210.5 232.4L210.7 232.5L210.9 233.0L211.0 232.6L211.2 232.4L211.4 232.6L211.6 232.4L211.8 233.5L212.0 233.7L212.2 232.6L212.4 232.3L212.6 232.5L212.8 232.3L212.9 232.4L213.1 233.6L213.3 232.4L213.5 233.1L213.7 232.4L213.9 233.2L214.1 232.9L214.3 232.6L214.5 232.9L214.7 232.8L214.8 232.0L215.0 232.1L215.2 231.8L215.4 233.1L215.6 232.6" fill="none" stroke="#1e1e1e" stroke-width="1.0"/><path d="M26.00 159.00V263.30H215.60" fill="none" stroke="#333" stroke-width="0.85"/><path d="M24.20 263.30H26.00" stroke="#1a1a1a" stroke-width="0.8"/><text x="24.10" y="266.10" text-anchor="end" class="tk">0.6</text><path d="M25.00 259.57H26.00" stroke="#1a1a1a" stroke-width="0.7"/><path d="M25.00 255.85H26.00" stroke="#1a1a1a" stroke-width="0.7"/><path d="M25.00 252.12H26.00" stroke="#1a1a1a" stroke-width="0.7"/><path d="M24.20 248.40H26.00" stroke="#1a1a1a" stroke-width="0.8"/><text x="24.10" y="251.20" text-anchor="end" class="tk">0.7</text><path d="M25.00 244.68H26.00" stroke="#1a1a1a" stroke-width="0.7"/><path d="M25.00 240.95H26.00" stroke="#1a1a1a" stroke-width="0.7"/><path d="M25.00 237.23H26.00" stroke="#1a1a1a" stroke-width="0.7"/><path d="M24.20 233.50H26.00" stroke="#1a1a1a" stroke-width="0.8"/><text x="24.10" y="236.30" text-anchor="end" class="tk">0.8</text><path d="M25.00 229.78H26.00" stroke="#1a1a1a" stroke-width="0.7"/><path d="M25.00 226.05H26.00" stroke="#1a1a1a" stroke-width="0.7"/><path d="M25.00 222.33H26.00" stroke="#1a1a1a" stroke-width="0.7"/><path d="M24.20 218.60H26.00" stroke="#1a1a1a" stroke-width="0.8"/><text x="24.10" y="221.40" text-anchor="end" class="tk">0.9</text><path d="M25.00 214.88H26.00" stroke="#1a1a1a" stroke-width="0.7"/><path d="M25.00 211.15H26.00" stroke="#1a1a1a" stroke-width="0.7"/><path d="M25.00 207.43H26.00" stroke="#1a1a1a" stroke-width="0.7"/><path d="M24.20 203.70H26.00" stroke="#1a1a1a" stroke-width="0.8"/><text x="24.10" y="206.50" text-anchor="end" class="tk">1.0</text><path d="M25.00 199.98H26.00" stroke="#1a1a1a" stroke-width="0.7"/><path d="M25.00 196.25H26.00" stroke="#1a1a1a" stroke-width="0.7"/><path d="M25.00 192.53H26.00" stroke="#1a1a1a" stroke-width="0.7"/><path d="M24.20 188.80H26.00" stroke="#1a1a1a" stroke-width="0.8"/><text x="24.10" y="191.60" text-anchor="end" class="tk">1.1</text><path d="M25.00 185.07H26.00" stroke="#1a1a1a" stroke-width="0.7"/><path d="M25.00 181.35H26.00" stroke="#1a1a1a" stroke-width="0.7"/><path d="M25.00 177.62H26.00" stroke="#1a1a1a" stroke-width="0.7"/><path d="M24.20 173.90H26.00" stroke="#1a1a1a" stroke-width="0.8"/><text x="24.10" y="176.70" text-anchor="end" class="tk">1.2</text><path d="M25.00 170.18H26.00" stroke="#1a1a1a" stroke-width="0.7"/><path d="M25.00 166.45H26.00" stroke="#1a1a1a" stroke-width="0.7"/><path d="M25.00 162.72H26.00" stroke="#1a1a1a" stroke-width="0.7"/><path d="M24.20 159.00H26.00" stroke="#1a1a1a" stroke-width="0.8"/><text x="24.10" y="161.80" text-anchor="end" class="tk">1.3</text><path d="M26.00 263.30V264.90" stroke="#1a1a1a" stroke-width="0.8"/><text x="26.00" y="272.40" text-anchor="middle" class="tk">0</text><path d="M49.70 263.30V264.90" stroke="#1a1a1a" stroke-width="0.8"/><text x="49.70" y="272.40" text-anchor="middle" class="tk">5</text><path d="M73.40 263.30V264.90" stroke="#1a1a1a" stroke-width="0.8"/><text x="73.40" y="272.40" text-anchor="middle" class="tk">10</text><path d="M97.10 263.30V264.90" stroke="#1a1a1a" stroke-width="0.8"/><text x="97.10" y="272.40" text-anchor="middle" class="tk">15</text><path d="M120.80 263.30V264.90" stroke="#1a1a1a" stroke-width="0.8"/><text x="120.80" y="272.40" text-anchor="middle" class="tk">20</text><path d="M144.50 263.30V264.90" stroke="#1a1a1a" stroke-width="0.8"/><text x="144.50" y="272.40" text-anchor="middle" class="tk">25</text><path d="M168.20 263.30V264.90" stroke="#1a1a1a" stroke-width="0.8"/><text x="168.20" y="272.40" text-anchor="middle" class="tk">30</text><path d="M191.90 263.30V264.90" stroke="#1a1a1a" stroke-width="0.8"/><text x="191.90" y="272.40" text-anchor="middle" class="tk">35</text><path d="M215.60 263.30V264.90" stroke="#1a1a1a" stroke-width="0.8"/><text x="215.60" y="272.40" text-anchor="middle" class="tk">40</text><path d="M35.48 160.10H196.64M35.48 157.70V162.50M196.64 157.70V162.50" stroke="#1a1a1a" stroke-width="0.95" fill="none"/><path d="M26.00 194.60H73.40M26.00 192.20V197.00M73.40 192.20V197.00" stroke="#1a1a1a" stroke-width="0.95" fill="none"/><path d="M82.88 185.20H101.84M82.88 182.80V187.60M101.84 182.80V187.60" stroke="#1a1a1a" stroke-width="0.95" fill="none"/><path d="M111.32 176.70H130.28M111.32 174.30V179.10M130.28 174.30V179.10" stroke="#1a1a1a" stroke-width="0.95" fill="none"/><path d="M139.76 168.60H158.72M139.76 166.20V171.00M158.72 166.20V171.00" stroke="#1a1a1a" stroke-width="0.95" fill="none"/><path d="M168.20 194.80H215.60M168.20 192.40V197.20M215.60 192.40V197.20" stroke="#1a1a1a" stroke-width="0.95" fill="none"/><path d="M73.40 194.60L82.88 185.20" stroke="#e5383f" stroke-width="1.05" stroke-dasharray="2 1.4"/><path d="M101.84 185.20L111.32 176.70" stroke="#e5383f" stroke-width="1.05" stroke-dasharray="2 1.4"/><path d="M130.28 176.70L139.76 168.60" stroke="#e5383f" stroke-width="1.05" stroke-dasharray="2 1.4"/><path d="M158.72 168.60L168.20 194.80" stroke="#3aa6a0" stroke-width="1.05" stroke-dasharray="2 1.4"/><text x="37.0" y="159.6" class="lb">4.0 mM Ca<tspan dy="-2.6" font-size="4.6">2+</tspan></text><text x="26.8" y="193.6" class="lb">33°C</text><text x="83.6" y="184.2" class="lb">35°C</text><text x="112.2" y="176.2" class="lb">37°C</text><text x="141.4" y="166.8" class="lb">39°C</text><text x="172" y="193.6" class="lb">33°C</text><text x="120.75" y="149.5" text-anchor="middle" class="bt2">T888A</text><text x="1.9" y="159.1" class="pl">B</text><text x="120.8" y="281.5" text-anchor="middle" class="al">Experiment  Time (min)</text><text transform="translate(12 209.6) rotate(-90)" text-anchor="middle" class="al">Ratio (F340/F380)</text><path d="M257.30 28.18V230.50H394.58" fill="none" stroke="#1a1a1a" stroke-width="0.9"/><path d="M255.30 230.50H257.30" stroke="#1a1a1a" stroke-width="0.8"/><text x="254.10" y="233.80" text-anchor="end" class="tc">0</text><path d="M256.10 205.21H257.30" stroke="#1a1a1a" stroke-width="0.8"/><path d="M255.30 179.92H257.30" stroke="#1a1a1a" stroke-width="0.8"/><text x="254.10" y="183.22" text-anchor="end" class="tc">2</text><path d="M256.10 154.63H257.30" stroke="#1a1a1a" stroke-width="0.8"/><path d="M255.30 129.34H257.30" stroke="#1a1a1a" stroke-width="0.8"/><text x="254.10" y="132.64" text-anchor="end" class="tc">4</text><path d="M256.10 104.05H257.30" stroke="#1a1a1a" stroke-width="0.8"/><path d="M255.30 78.76H257.30" stroke="#1a1a1a" stroke-width="0.8"/><text x="254.10" y="82.06" text-anchor="end" class="tc">6</text><path d="M256.10 53.47H257.30" stroke="#1a1a1a" stroke-width="0.8"/><path d="M255.30 28.18H257.30" stroke="#1a1a1a" stroke-width="0.8"/><text x="254.10" y="31.48" text-anchor="end" class="tc">8</text><path d="M257.30 230.50V232.50" stroke="#1a1a1a" stroke-width="0.8"/><text x="257.90" y="242.60" text-anchor="middle" class="tc">32</text><path d="M274.46 230.50V231.70" stroke="#1a1a1a" stroke-width="0.8"/><path d="M291.62 230.50V232.50" stroke="#1a1a1a" stroke-width="0.8"/><text x="292.22" y="242.60" text-anchor="middle" class="tc">34</text><path d="M308.78 230.50V231.70" stroke="#1a1a1a" stroke-width="0.8"/><path d="M325.94 230.50V232.50" stroke="#1a1a1a" stroke-width="0.8"/><text x="326.54" y="242.60" text-anchor="middle" class="tc">36</text><path d="M343.10 230.50V231.70" stroke="#1a1a1a" stroke-width="0.8"/><path d="M360.26 230.50V232.50" stroke="#1a1a1a" stroke-width="0.8"/><text x="360.86" y="242.60" text-anchor="middle" class="tc">38</text><path d="M377.42 230.50V231.70" stroke="#1a1a1a" stroke-width="0.8"/><path d="M394.58 230.50V232.50" stroke="#1a1a1a" stroke-width="0.8"/><text x="395.18" y="242.60" text-anchor="middle" class="tc">40</text><text x="327" y="255.2" text-anchor="middle" class="ac">Temperature (<tspan font-size="8.5">°</tspan>C)</text><text transform="translate(243 127.8) rotate(-90)" text-anchor="middle" class="ay">Ca<tspan dy="-4.3" font-size="6.5">2+</tspan><tspan dx="-3.5" dy="6.6" font-size="6.5">i</tspan><tspan dx="1" dy="-2.3"> Oscillation  Frequency (min</tspan><tspan dy="-3.8" font-size="6.5">-1</tspan><tspan dy="3.8">)</tspan></text><text x="234" y="10.5" class="pl">C</text><path d="M274.46 140.72V149.82M271.76 140.72H277.16M271.76 149.82H277.16" stroke="#111" stroke-width="1.1"/><path d="M308.78 111.64V126.81M306.08 111.64H311.48M306.08 126.81H311.48" stroke="#111" stroke-width="1.1"/><path d="M343.10 100.00V115.68M340.40 100.00H345.80M340.40 115.68H345.80" stroke="#111" stroke-width="1.1"/><path d="M377.42 83.57V94.19M374.72 83.57H380.12M374.72 94.19H380.12" stroke="#111" stroke-width="1.1"/><path d="M274.46 142.74L377.42 88.37" stroke="#111" stroke-width="1.2"/><circle cx="274.46" cy="145.27" r="2.9" fill="#fff" stroke="#111" stroke-width="1.35"/><circle cx="308.78" cy="119.22" r="2.9" fill="#fff" stroke="#111" stroke-width="1.35"/><circle cx="343.10" cy="107.84" r="2.9" fill="#fff" stroke="#111" stroke-width="1.35"/><circle cx="377.42" cy="88.88" r="2.9" fill="#fff" stroke="#111" stroke-width="1.35"/><path d="M274.46 198.89V209.00M271.76 198.89H277.16M271.76 209.00H277.16" stroke="#111" stroke-width="1.1"/><path d="M308.78 198.38V212.04M306.08 198.38H311.48M306.08 212.04H311.48" stroke="#111" stroke-width="1.1"/><path d="M343.10 191.05V205.21M340.40 191.05H345.80M340.40 205.21H345.80" stroke="#111" stroke-width="1.1"/><path d="M377.42 191.30V209.00M374.72 191.30H380.12M374.72 209.00H380.12" stroke="#111" stroke-width="1.1"/><path d="M274.46 199.65V214.82M271.76 199.65H277.16M271.76 214.82H277.16" stroke="#111" stroke-width="1.1"/><path d="M308.78 198.63V212.80M306.08 198.63H311.48M306.08 212.80H311.48" stroke="#111" stroke-width="1.1"/><path d="M343.10 191.05V209.00M340.40 191.05H345.80M340.40 209.00H345.80" stroke="#111" stroke-width="1.1"/><path d="M377.42 191.30V213.56M374.72 191.30H380.12M374.72 213.56H380.12" stroke="#111" stroke-width="1.1"/><path d="M274.46 203.69L377.42 200.91" stroke="#111" stroke-width="1.2"/><path d="M274.46 206.73L377.42 201.67" stroke="#111" stroke-width="1.2"/><rect x="271.66" y="204.43" width="5.6" height="5.6" fill="#fff" stroke="#111" stroke-width="1.25"/><rect x="305.98" y="202.92" width="5.6" height="5.6" fill="#fff" stroke="#111" stroke-width="1.25"/><rect x="340.30" y="197.35" width="5.6" height="5.6" fill="#fff" stroke="#111" stroke-width="1.25"/><rect x="374.62" y="199.88" width="5.6" height="5.6" fill="#fff" stroke="#111" stroke-width="1.25"/><path d="M274.46 200.65L277.46 206.15H271.46Z" fill="none" stroke="#111" stroke-width="1.1"/><path d="M308.78 201.91L311.78 207.41H305.78Z" fill="none" stroke="#111" stroke-width="1.1"/><path d="M343.10 196.85L346.10 202.35H340.10Z" fill="none" stroke="#111" stroke-width="1.1"/><path d="M377.42 198.88L380.42 204.38H374.42Z" fill="none" stroke="#111" stroke-width="1.1"/><path d="M263.40 32.60H271.80" stroke="#111" stroke-width="1"/><circle cx="267.6" cy="32.60" r="2.8" fill="none" stroke="#111" stroke-width="1.3"/><text x="279" y="35.60" class="lg">Wild type</text><path d="M263.40 41.80H271.80" stroke="#111" stroke-width="1"/><path d="M267.6 38.50L270.70000000000005 44.00H264.5Z" fill="none" stroke="#111" stroke-width="1.3"/><text x="279" y="44.80" class="lg">T888M</text><path d="M263.40 51.00H271.80" stroke="#111" stroke-width="1"/><rect x="264.8" y="48.20" width="5.6" height="5.6" fill="none" stroke="#111" stroke-width="1.3"/><text x="279" y="54.00" class="lg">T888A</text></svg>
</body></html>
